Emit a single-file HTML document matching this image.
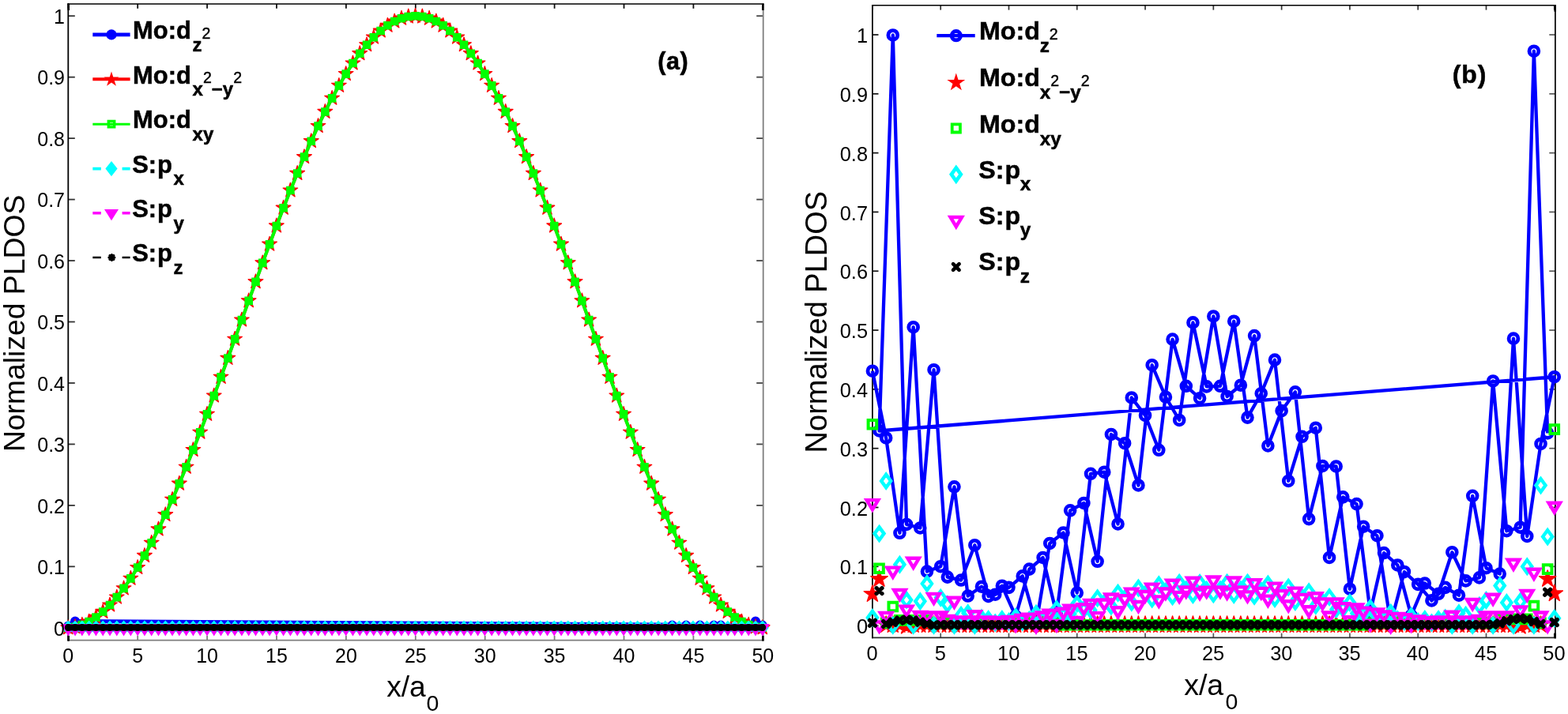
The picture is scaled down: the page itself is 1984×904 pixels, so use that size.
<!DOCTYPE html>
<html><head><meta charset="utf-8"><title>Normalized PLDOS</title>
<style>
html,body{margin:0;padding:0;background:#fff;}
body{width:1984px;height:904px;overflow:hidden;}
svg{display:block;}
text{font-family:"Liberation Sans",sans-serif;fill:#000;}
.b{font-weight:bold;stroke:#000;stroke-width:0.5px;}
</style></head><body>
<svg width="1984" height="904" viewBox="0 0 1984 904">
<rect width="1984" height="904" fill="#fff"/>
<g stroke-width="1.8" fill="none"><path d="M86.3 810.6v-5.8" stroke="#7f7f7f"/><path d="M86.3 5v5.8" stroke="#111"/><path d="M174.2 810.6v-5.8" stroke="#7f7f7f"/><path d="M174.2 5v5.8" stroke="#111"/><path d="M262.1 810.6v-5.8" stroke="#7f7f7f"/><path d="M262.1 5v5.8" stroke="#111"/><path d="M350 810.6v-5.8" stroke="#7f7f7f"/><path d="M350 5v5.8" stroke="#111"/><path d="M437.9 810.6v-5.8" stroke="#7f7f7f"/><path d="M437.9 5v5.8" stroke="#111"/><path d="M525.8 810.6v-5.8" stroke="#7f7f7f"/><path d="M525.8 5v5.8" stroke="#111"/><path d="M613.7 810.6v-5.8" stroke="#7f7f7f"/><path d="M613.7 5v5.8" stroke="#111"/><path d="M701.6 810.6v-5.8" stroke="#7f7f7f"/><path d="M701.6 5v5.8" stroke="#111"/><path d="M789.5 810.6v-5.8" stroke="#7f7f7f"/><path d="M789.5 5v5.8" stroke="#111"/><path d="M877.4 810.6v-5.8" stroke="#7f7f7f"/><path d="M877.4 5v5.8" stroke="#111"/><path d="M965.3 810.6v-5.8" stroke="#7f7f7f"/><path d="M965.3 5v5.8" stroke="#111"/><path d="M86.3 794.8h8.5" stroke="#333"/><path d="M965.7 794.8h-8.5" stroke="#444"/><path d="M86.3 717.34h8.5" stroke="#333"/><path d="M965.7 717.34h-8.5" stroke="#444"/><path d="M86.3 639.88h8.5" stroke="#333"/><path d="M965.7 639.88h-8.5" stroke="#444"/><path d="M86.3 562.42h8.5" stroke="#333"/><path d="M965.7 562.42h-8.5" stroke="#444"/><path d="M86.3 484.96h8.5" stroke="#333"/><path d="M965.7 484.96h-8.5" stroke="#444"/><path d="M86.3 407.5h8.5" stroke="#333"/><path d="M965.7 407.5h-8.5" stroke="#444"/><path d="M86.3 330.04h8.5" stroke="#333"/><path d="M965.7 330.04h-8.5" stroke="#444"/><path d="M86.3 252.58h8.5" stroke="#333"/><path d="M965.7 252.58h-8.5" stroke="#444"/><path d="M86.3 175.12h8.5" stroke="#333"/><path d="M965.7 175.12h-8.5" stroke="#444"/><path d="M86.3 97.66h8.5" stroke="#333"/><path d="M965.7 97.66h-8.5" stroke="#444"/><path d="M86.3 20.2h8.5" stroke="#333"/><path d="M965.7 20.2h-8.5" stroke="#444"/></g>
<g stroke-width="1.8" fill="none" stroke-linecap="square">
<path d="M86.3 810.6H965.7" stroke="#7f7f7f"/>
<path d="M965.7 5V810.6" stroke="#7f7f7f"/>
<path d="M86.3 5H965.7" stroke="#000" stroke-width="1.5"/>
<path d="M86.3 5V810.6" stroke="#000"/>
</g>
<path d="M86.7 5v8M965.3 5v8M86.7 811.5v-6.5M965.3 811.5v-6.5" stroke="#000" stroke-width="2.6" fill="none"/>
<polyline points="86.3,792.48 103.87,794.8 121.44,794.8 139.01,794.8 156.58,794.8 174.15,794.8 191.72,794.8 209.29,794.8 226.86,794.8 244.43,794.8 261.99,794.8 279.56,794.8 297.13,794.8 314.7,794.8 332.27,794.8 349.84,794.8 367.41,794.8 384.98,794.8 402.55,794.8 420.12,794.8 437.69,794.8 455.26,794.8 472.83,794.8 490.4,794.8 507.97,794.8 525.54,794.8 543.11,794.8 560.68,794.8 578.24,794.8 595.81,794.8 613.38,794.8 630.95,794.8 648.52,794.8 666.09,794.8 683.66,794.8 701.23,794.8 718.8,794.8 736.37,794.8 753.94,794.8 771.51,794.8 789.08,794.8 806.65,794.8 824.22,794.8 841.79,794.8 859.36,794.8 876.93,794.8 894.49,794.8 912.06,791.7 929.63,794.8 947.2,794.8 964.77,791.7 95.08,786.51 112.65,794.8 130.22,794.8 147.79,794.8 165.36,794.8 182.93,794.8 200.5,794.8 218.07,794.8 235.64,794.8 253.21,794.8 270.78,794.8 288.35,794.8 305.92,794.8 323.49,794.8 341.06,794.8 358.63,794.8 376.2,794.8 393.77,794.8 411.33,794.8 428.9,794.8 446.47,794.8 464.04,794.8 481.61,794.8 499.18,794.8 516.75,794.8 534.32,794.8 551.89,794.8 569.46,794.8 587.03,794.8 604.6,794.8 622.17,794.8 639.74,794.8 657.31,794.8 674.88,794.8 692.45,794.8 710.02,794.8 727.58,794.8 745.15,794.8 762.72,794.8 780.29,794.8 797.86,794.8 815.43,794.8 833,794.8 850.57,791.7 868.14,791.7 885.71,791.7 903.28,791.7 920.85,794.8 938.42,791.7 955.99,786.59" fill="none" stroke="#0000ff" stroke-width="4.8" stroke-linejoin="round"/>
<path d="M80.2 792.48a6.1 6.1 0 1 0 12.2 0a6.1 6.1 0 1 0 -12.2 0ZM88.98 786.51a6.1 6.1 0 1 0 12.2 0a6.1 6.1 0 1 0 -12.2 0ZM97.77 794.8a6.1 6.1 0 1 0 12.2 0a6.1 6.1 0 1 0 -12.2 0ZM106.55 794.8a6.1 6.1 0 1 0 12.2 0a6.1 6.1 0 1 0 -12.2 0ZM115.34 794.8a6.1 6.1 0 1 0 12.2 0a6.1 6.1 0 1 0 -12.2 0ZM124.12 794.8a6.1 6.1 0 1 0 12.2 0a6.1 6.1 0 1 0 -12.2 0ZM132.91 794.8a6.1 6.1 0 1 0 12.2 0a6.1 6.1 0 1 0 -12.2 0ZM141.69 794.8a6.1 6.1 0 1 0 12.2 0a6.1 6.1 0 1 0 -12.2 0ZM150.48 794.8a6.1 6.1 0 1 0 12.2 0a6.1 6.1 0 1 0 -12.2 0ZM159.26 794.8a6.1 6.1 0 1 0 12.2 0a6.1 6.1 0 1 0 -12.2 0ZM168.05 794.8a6.1 6.1 0 1 0 12.2 0a6.1 6.1 0 1 0 -12.2 0ZM176.83 794.8a6.1 6.1 0 1 0 12.2 0a6.1 6.1 0 1 0 -12.2 0ZM185.62 794.8a6.1 6.1 0 1 0 12.2 0a6.1 6.1 0 1 0 -12.2 0ZM194.4 794.8a6.1 6.1 0 1 0 12.2 0a6.1 6.1 0 1 0 -12.2 0ZM203.19 794.8a6.1 6.1 0 1 0 12.2 0a6.1 6.1 0 1 0 -12.2 0ZM211.97 794.8a6.1 6.1 0 1 0 12.2 0a6.1 6.1 0 1 0 -12.2 0ZM220.76 794.8a6.1 6.1 0 1 0 12.2 0a6.1 6.1 0 1 0 -12.2 0ZM229.54 794.8a6.1 6.1 0 1 0 12.2 0a6.1 6.1 0 1 0 -12.2 0ZM238.33 794.8a6.1 6.1 0 1 0 12.2 0a6.1 6.1 0 1 0 -12.2 0ZM247.11 794.8a6.1 6.1 0 1 0 12.2 0a6.1 6.1 0 1 0 -12.2 0ZM255.89 794.8a6.1 6.1 0 1 0 12.2 0a6.1 6.1 0 1 0 -12.2 0ZM264.68 794.8a6.1 6.1 0 1 0 12.2 0a6.1 6.1 0 1 0 -12.2 0ZM273.46 794.8a6.1 6.1 0 1 0 12.2 0a6.1 6.1 0 1 0 -12.2 0ZM282.25 794.8a6.1 6.1 0 1 0 12.2 0a6.1 6.1 0 1 0 -12.2 0ZM291.03 794.8a6.1 6.1 0 1 0 12.2 0a6.1 6.1 0 1 0 -12.2 0ZM299.82 794.8a6.1 6.1 0 1 0 12.2 0a6.1 6.1 0 1 0 -12.2 0ZM308.6 794.8a6.1 6.1 0 1 0 12.2 0a6.1 6.1 0 1 0 -12.2 0ZM317.39 794.8a6.1 6.1 0 1 0 12.2 0a6.1 6.1 0 1 0 -12.2 0ZM326.17 794.8a6.1 6.1 0 1 0 12.2 0a6.1 6.1 0 1 0 -12.2 0ZM334.96 794.8a6.1 6.1 0 1 0 12.2 0a6.1 6.1 0 1 0 -12.2 0ZM343.74 794.8a6.1 6.1 0 1 0 12.2 0a6.1 6.1 0 1 0 -12.2 0ZM352.53 794.8a6.1 6.1 0 1 0 12.2 0a6.1 6.1 0 1 0 -12.2 0ZM361.31 794.8a6.1 6.1 0 1 0 12.2 0a6.1 6.1 0 1 0 -12.2 0ZM370.1 794.8a6.1 6.1 0 1 0 12.2 0a6.1 6.1 0 1 0 -12.2 0ZM378.88 794.8a6.1 6.1 0 1 0 12.2 0a6.1 6.1 0 1 0 -12.2 0ZM387.67 794.8a6.1 6.1 0 1 0 12.2 0a6.1 6.1 0 1 0 -12.2 0ZM396.45 794.8a6.1 6.1 0 1 0 12.2 0a6.1 6.1 0 1 0 -12.2 0ZM405.23 794.8a6.1 6.1 0 1 0 12.2 0a6.1 6.1 0 1 0 -12.2 0ZM414.02 794.8a6.1 6.1 0 1 0 12.2 0a6.1 6.1 0 1 0 -12.2 0ZM422.8 794.8a6.1 6.1 0 1 0 12.2 0a6.1 6.1 0 1 0 -12.2 0ZM431.59 794.8a6.1 6.1 0 1 0 12.2 0a6.1 6.1 0 1 0 -12.2 0ZM440.37 794.8a6.1 6.1 0 1 0 12.2 0a6.1 6.1 0 1 0 -12.2 0ZM449.16 794.8a6.1 6.1 0 1 0 12.2 0a6.1 6.1 0 1 0 -12.2 0ZM457.94 794.8a6.1 6.1 0 1 0 12.2 0a6.1 6.1 0 1 0 -12.2 0ZM466.73 794.8a6.1 6.1 0 1 0 12.2 0a6.1 6.1 0 1 0 -12.2 0ZM475.51 794.8a6.1 6.1 0 1 0 12.2 0a6.1 6.1 0 1 0 -12.2 0ZM484.3 794.8a6.1 6.1 0 1 0 12.2 0a6.1 6.1 0 1 0 -12.2 0ZM493.08 794.8a6.1 6.1 0 1 0 12.2 0a6.1 6.1 0 1 0 -12.2 0ZM501.87 794.8a6.1 6.1 0 1 0 12.2 0a6.1 6.1 0 1 0 -12.2 0ZM510.65 794.8a6.1 6.1 0 1 0 12.2 0a6.1 6.1 0 1 0 -12.2 0ZM519.44 794.8a6.1 6.1 0 1 0 12.2 0a6.1 6.1 0 1 0 -12.2 0ZM528.22 794.8a6.1 6.1 0 1 0 12.2 0a6.1 6.1 0 1 0 -12.2 0ZM537.01 794.8a6.1 6.1 0 1 0 12.2 0a6.1 6.1 0 1 0 -12.2 0ZM545.79 794.8a6.1 6.1 0 1 0 12.2 0a6.1 6.1 0 1 0 -12.2 0ZM554.58 794.8a6.1 6.1 0 1 0 12.2 0a6.1 6.1 0 1 0 -12.2 0ZM563.36 794.8a6.1 6.1 0 1 0 12.2 0a6.1 6.1 0 1 0 -12.2 0ZM572.14 794.8a6.1 6.1 0 1 0 12.2 0a6.1 6.1 0 1 0 -12.2 0ZM580.93 794.8a6.1 6.1 0 1 0 12.2 0a6.1 6.1 0 1 0 -12.2 0ZM589.71 794.8a6.1 6.1 0 1 0 12.2 0a6.1 6.1 0 1 0 -12.2 0ZM598.5 794.8a6.1 6.1 0 1 0 12.2 0a6.1 6.1 0 1 0 -12.2 0ZM607.28 794.8a6.1 6.1 0 1 0 12.2 0a6.1 6.1 0 1 0 -12.2 0ZM616.07 794.8a6.1 6.1 0 1 0 12.2 0a6.1 6.1 0 1 0 -12.2 0ZM624.85 794.8a6.1 6.1 0 1 0 12.2 0a6.1 6.1 0 1 0 -12.2 0ZM633.64 794.8a6.1 6.1 0 1 0 12.2 0a6.1 6.1 0 1 0 -12.2 0ZM642.42 794.8a6.1 6.1 0 1 0 12.2 0a6.1 6.1 0 1 0 -12.2 0ZM651.21 794.8a6.1 6.1 0 1 0 12.2 0a6.1 6.1 0 1 0 -12.2 0ZM659.99 794.8a6.1 6.1 0 1 0 12.2 0a6.1 6.1 0 1 0 -12.2 0ZM668.78 794.8a6.1 6.1 0 1 0 12.2 0a6.1 6.1 0 1 0 -12.2 0ZM677.56 794.8a6.1 6.1 0 1 0 12.2 0a6.1 6.1 0 1 0 -12.2 0ZM686.35 794.8a6.1 6.1 0 1 0 12.2 0a6.1 6.1 0 1 0 -12.2 0ZM695.13 794.8a6.1 6.1 0 1 0 12.2 0a6.1 6.1 0 1 0 -12.2 0ZM703.92 794.8a6.1 6.1 0 1 0 12.2 0a6.1 6.1 0 1 0 -12.2 0ZM712.7 794.8a6.1 6.1 0 1 0 12.2 0a6.1 6.1 0 1 0 -12.2 0ZM721.48 794.8a6.1 6.1 0 1 0 12.2 0a6.1 6.1 0 1 0 -12.2 0ZM730.27 794.8a6.1 6.1 0 1 0 12.2 0a6.1 6.1 0 1 0 -12.2 0ZM739.05 794.8a6.1 6.1 0 1 0 12.2 0a6.1 6.1 0 1 0 -12.2 0ZM747.84 794.8a6.1 6.1 0 1 0 12.2 0a6.1 6.1 0 1 0 -12.2 0ZM756.62 794.8a6.1 6.1 0 1 0 12.2 0a6.1 6.1 0 1 0 -12.2 0ZM765.41 794.8a6.1 6.1 0 1 0 12.2 0a6.1 6.1 0 1 0 -12.2 0ZM774.19 794.8a6.1 6.1 0 1 0 12.2 0a6.1 6.1 0 1 0 -12.2 0ZM782.98 794.8a6.1 6.1 0 1 0 12.2 0a6.1 6.1 0 1 0 -12.2 0ZM791.76 794.8a6.1 6.1 0 1 0 12.2 0a6.1 6.1 0 1 0 -12.2 0ZM800.55 794.8a6.1 6.1 0 1 0 12.2 0a6.1 6.1 0 1 0 -12.2 0ZM809.33 794.8a6.1 6.1 0 1 0 12.2 0a6.1 6.1 0 1 0 -12.2 0ZM818.12 794.8a6.1 6.1 0 1 0 12.2 0a6.1 6.1 0 1 0 -12.2 0ZM826.9 794.8a6.1 6.1 0 1 0 12.2 0a6.1 6.1 0 1 0 -12.2 0ZM835.69 794.8a6.1 6.1 0 1 0 12.2 0a6.1 6.1 0 1 0 -12.2 0ZM844.47 791.7a6.1 6.1 0 1 0 12.2 0a6.1 6.1 0 1 0 -12.2 0ZM853.26 794.8a6.1 6.1 0 1 0 12.2 0a6.1 6.1 0 1 0 -12.2 0ZM862.04 791.7a6.1 6.1 0 1 0 12.2 0a6.1 6.1 0 1 0 -12.2 0ZM870.83 794.8a6.1 6.1 0 1 0 12.2 0a6.1 6.1 0 1 0 -12.2 0ZM879.61 791.7a6.1 6.1 0 1 0 12.2 0a6.1 6.1 0 1 0 -12.2 0ZM888.39 794.8a6.1 6.1 0 1 0 12.2 0a6.1 6.1 0 1 0 -12.2 0ZM897.18 791.7a6.1 6.1 0 1 0 12.2 0a6.1 6.1 0 1 0 -12.2 0ZM905.96 791.7a6.1 6.1 0 1 0 12.2 0a6.1 6.1 0 1 0 -12.2 0ZM914.75 794.8a6.1 6.1 0 1 0 12.2 0a6.1 6.1 0 1 0 -12.2 0ZM923.53 794.8a6.1 6.1 0 1 0 12.2 0a6.1 6.1 0 1 0 -12.2 0ZM932.32 791.7a6.1 6.1 0 1 0 12.2 0a6.1 6.1 0 1 0 -12.2 0ZM941.1 794.8a6.1 6.1 0 1 0 12.2 0a6.1 6.1 0 1 0 -12.2 0ZM949.89 786.59a6.1 6.1 0 1 0 12.2 0a6.1 6.1 0 1 0 -12.2 0ZM958.67 791.7a6.1 6.1 0 1 0 12.2 0a6.1 6.1 0 1 0 -12.2 0Z" fill="#0000ff"/>
<polyline points="86.3,794.77 95.08,793.71 103.87,791.14 112.65,787.06 121.44,781.5 130.22,774.47 139.01,766.01 147.79,756.14 156.58,744.91 165.36,732.36 174.15,718.54 182.93,703.5 191.72,687.29 200.5,670 209.29,651.68 218.07,632.4 226.86,612.24 235.64,591.27 244.43,569.59 253.21,547.28 261.99,524.41 270.78,501.09 279.56,477.4 288.35,453.44 297.13,429.3 305.92,405.08 314.7,380.86 323.49,356.75 332.27,332.83 341.06,309.21 349.84,285.98 358.63,263.21 367.41,241.02 376.2,219.47 384.98,198.67 393.77,178.68 402.55,159.58 411.33,141.46 420.12,124.38 428.9,108.4 437.69,93.6 446.47,80.03 455.26,67.73 464.04,56.77 472.83,47.18 481.61,39.01 490.4,32.27 499.18,27.01 507.97,23.23 516.75,20.96 525.54,20.2 534.32,20.96 543.11,23.23 551.89,27.01 560.68,32.27 569.46,39.01 578.24,47.18 587.03,56.77 595.81,67.73 604.6,80.03 613.38,93.6 622.17,108.4 630.95,124.38 639.74,141.46 648.52,159.58 657.31,178.68 666.09,198.67 674.88,219.47 683.66,241.02 692.45,263.21 701.23,285.98 710.02,309.21 718.8,332.83 727.58,356.75 736.37,380.86 745.15,405.08 753.94,429.3 762.72,453.44 771.51,477.4 780.29,501.09 789.08,524.41 797.86,547.28 806.65,569.59 815.43,591.27 824.22,612.24 833,632.4 841.79,651.68 850.57,670 859.36,687.29 868.14,703.5 876.93,718.54 885.71,732.36 894.49,744.91 903.28,756.14 912.06,766.01 920.85,774.47 929.63,781.5 938.42,787.06 947.2,791.14 955.99,793.71 964.77,794.77" fill="none" stroke="#ff0000" stroke-width="4" stroke-linejoin="round"/>
<path d="M86.3 784.97L88.5 791.74L95.62 791.74L89.86 795.93L92.06 802.7L86.3 798.51L80.54 802.7L82.74 795.93L76.98 791.74L84.1 791.74ZM95.08 783.91L97.29 790.68L104.41 790.68L98.65 794.87L100.85 801.64L95.08 797.45L89.32 801.64L91.52 794.87L85.76 790.68L92.88 790.68ZM103.87 781.34L106.07 788.11L113.19 788.11L107.43 792.29L109.63 799.06L103.87 794.88L98.11 799.06L100.31 792.29L94.55 788.11L101.67 788.11ZM112.65 777.26L114.85 784.03L121.97 784.03L116.21 788.22L118.41 794.99L112.65 790.8L106.89 794.99L109.09 788.22L103.33 784.03L110.45 784.03ZM121.44 771.7L123.64 778.47L130.76 778.47L125 782.66L127.2 789.43L121.44 785.24L115.68 789.43L117.88 782.66L112.12 778.47L119.24 778.47ZM130.22 764.67L132.42 771.44L139.54 771.44L133.78 775.63L135.98 782.4L130.22 778.22L124.46 782.4L126.66 775.63L120.9 771.44L128.02 771.44ZM139.01 756.21L141.21 762.98L148.33 762.98L142.57 767.17L144.77 773.94L139.01 769.75L133.25 773.94L135.45 767.17L129.69 762.98L136.81 762.98ZM147.79 746.34L149.99 753.12L157.11 753.12L151.35 757.3L153.55 764.07L147.79 759.89L142.03 764.07L144.23 757.3L138.47 753.12L145.59 753.12ZM156.58 735.11L158.78 741.88L165.9 741.88L160.14 746.07L162.34 752.84L156.58 748.66L150.82 752.84L153.02 746.07L147.26 741.88L154.38 741.88ZM165.36 722.56L167.56 729.33L174.68 729.33L168.92 733.52L171.12 740.29L165.36 736.1L159.6 740.29L161.8 733.52L156.04 729.33L163.16 729.33ZM174.15 708.74L176.35 715.51L183.47 715.51L177.71 719.69L179.91 726.47L174.15 722.28L168.39 726.47L170.59 719.69L164.83 715.51L171.95 715.51ZM182.93 693.7L185.13 700.47L192.25 700.47L186.49 704.65L188.69 711.42L182.93 707.24L177.17 711.42L179.37 704.65L173.61 700.47L180.73 700.47ZM191.72 677.49L193.92 684.27L201.04 684.27L195.28 688.45L197.48 695.22L191.72 691.04L185.96 695.22L188.16 688.45L182.4 684.27L189.52 684.27ZM200.5 660.2L202.7 666.97L209.82 666.97L204.06 671.16L206.26 677.93L200.5 673.74L194.74 677.93L196.94 671.16L191.18 666.97L198.3 666.97ZM209.29 641.88L211.49 648.65L218.61 648.65L212.85 652.83L215.05 659.6L209.29 655.42L203.53 659.6L205.73 652.83L199.97 648.65L207.09 648.65ZM218.07 622.6L220.27 629.37L227.39 629.37L221.63 633.55L223.83 640.32L218.07 636.14L212.31 640.32L214.51 633.55L208.75 629.37L215.87 629.37ZM226.86 602.44L229.06 609.21L236.18 609.21L230.42 613.39L232.62 620.16L226.86 615.98L221.1 620.16L223.3 613.39L217.54 609.21L224.66 609.21ZM235.64 581.47L237.84 588.24L244.96 588.24L239.2 592.43L241.4 599.2L235.64 595.02L229.88 599.2L232.08 592.43L226.32 588.24L233.44 588.24ZM244.43 559.79L246.63 566.56L253.75 566.56L247.99 570.75L250.19 577.52L244.43 573.34L238.66 577.52L240.86 570.75L235.1 566.56L242.22 566.56ZM253.21 537.48L255.41 544.25L262.53 544.25L256.77 548.43L258.97 555.2L253.21 551.02L247.45 555.2L249.65 548.43L243.89 544.25L251.01 544.25ZM261.99 514.61L264.19 521.38L271.31 521.38L265.55 525.57L267.75 532.34L261.99 528.16L256.23 532.34L258.43 525.57L252.67 521.38L259.79 521.38ZM270.78 491.29L272.98 498.06L280.1 498.06L274.34 502.25L276.54 509.02L270.78 504.84L265.02 509.02L267.22 502.25L261.46 498.06L268.58 498.06ZM279.56 467.6L281.76 474.38L288.88 474.38L283.12 478.56L285.32 485.33L279.56 481.15L273.8 485.33L276 478.56L270.24 474.38L277.36 474.38ZM288.35 443.64L290.55 450.41L297.67 450.42L291.91 454.6L294.11 461.37L288.35 457.19L282.59 461.37L284.79 454.6L279.03 450.42L286.15 450.41ZM297.13 419.5L299.33 426.27L306.45 426.27L300.69 430.46L302.89 437.23L297.13 433.05L291.37 437.23L293.57 430.46L287.81 426.27L294.93 426.27ZM305.92 395.28L308.12 402.05L315.24 402.05L309.48 406.23L311.68 413L305.92 408.82L300.16 413L302.36 406.23L296.6 402.05L303.72 402.05ZM314.7 371.06L316.9 377.83L324.02 377.83L318.26 382.02L320.46 388.79L314.7 384.6L308.94 388.79L311.14 382.02L305.38 377.83L312.5 377.83ZM323.49 346.95L325.69 353.72L332.81 353.72L327.05 357.9L329.25 364.68L323.49 360.49L317.73 364.68L319.93 357.9L314.17 353.72L321.29 353.72ZM332.27 323.03L334.47 329.8L341.59 329.8L335.83 333.99L338.03 340.76L332.27 336.58L326.51 340.76L328.71 333.99L322.95 329.8L330.07 329.8ZM341.06 299.41L343.26 306.18L350.38 306.18L344.62 310.37L346.82 317.14L341.06 312.96L335.3 317.14L337.5 310.37L331.74 306.18L338.86 306.18ZM349.84 276.18L352.04 282.95L359.16 282.95L353.4 287.13L355.6 293.9L349.84 289.72L344.08 293.9L346.28 287.13L340.52 282.95L347.64 282.95ZM358.63 253.41L360.83 260.19L367.95 260.19L362.19 264.37L364.39 271.14L358.63 266.96L352.87 271.14L355.07 264.37L349.31 260.19L356.43 260.19ZM367.41 231.22L369.61 237.99L376.73 237.99L370.97 242.18L373.17 248.95L367.41 244.76L361.65 248.95L363.85 242.18L358.09 237.99L365.21 237.99ZM376.2 209.67L378.4 216.45L385.52 216.45L379.76 220.63L381.96 227.4L376.2 223.22L370.44 227.4L372.64 220.63L366.88 216.45L374 216.45ZM384.98 188.87L387.18 195.64L394.3 195.64L388.54 199.82L390.74 206.59L384.98 202.41L379.22 206.59L381.42 199.82L375.66 195.64L382.78 195.64ZM393.77 168.88L395.97 175.65L403.09 175.65L397.33 179.83L399.53 186.6L393.77 182.42L388.01 186.6L390.21 179.83L384.45 175.65L391.56 175.65ZM402.55 149.78L404.75 156.55L411.87 156.55L406.11 160.74L408.31 167.51L402.55 163.32L396.79 167.51L398.99 160.74L393.23 156.55L400.35 156.55ZM411.33 131.66L413.54 138.43L420.66 138.43L414.9 142.61L417.1 149.39L411.33 145.2L405.57 149.39L407.77 142.61L402.01 138.43L409.13 138.43ZM420.12 114.58L422.32 121.35L429.44 121.35L423.68 125.53L425.88 132.3L420.12 128.12L414.36 132.3L416.56 125.53L410.8 121.35L417.92 121.35ZM428.9 98.6L431.1 105.37L438.22 105.37L432.46 109.56L434.66 116.33L428.9 112.15L423.14 116.33L425.34 109.56L419.58 105.37L426.7 105.37ZM437.69 83.8L439.89 90.57L447.01 90.57L441.25 94.76L443.45 101.53L437.69 97.34L431.93 101.53L434.13 94.76L428.37 90.57L435.49 90.57ZM446.47 70.23L448.67 77L455.79 77L450.03 81.18L452.23 87.95L446.47 83.77L440.71 87.95L442.91 81.18L437.15 77L444.27 77ZM455.26 57.93L457.46 64.7L464.58 64.71L458.82 68.89L461.02 75.66L455.26 71.48L449.5 75.66L451.7 68.89L445.94 64.71L453.06 64.7ZM464.04 46.97L466.24 53.74L473.36 53.74L467.6 57.93L469.8 64.7L464.04 60.52L458.28 64.7L460.48 57.93L454.72 53.74L461.84 53.74ZM472.83 37.38L475.03 44.16L482.15 44.16L476.39 48.34L478.59 55.11L472.83 50.93L467.07 55.11L469.27 48.34L463.51 44.16L470.63 44.16ZM481.61 29.21L483.81 35.98L490.93 35.98L485.17 40.16L487.37 46.93L481.61 42.75L475.85 46.93L478.05 40.16L472.29 35.98L479.41 35.98ZM490.4 22.47L492.6 29.24L499.72 29.24L493.96 33.43L496.16 40.2L490.4 36.02L484.64 40.2L486.84 33.43L481.08 29.24L488.2 29.24ZM499.18 17.21L501.38 23.98L508.5 23.98L502.74 28.16L504.94 34.93L499.18 30.75L493.42 34.93L495.62 28.16L489.86 23.98L496.98 23.98ZM507.97 13.43L510.17 20.2L517.29 20.2L511.53 24.39L513.73 31.16L507.97 26.97L502.21 31.16L504.41 24.39L498.65 20.2L505.77 20.2ZM516.75 11.16L518.95 17.93L526.07 17.93L520.31 22.12L522.51 28.89L516.75 24.7L510.99 28.89L513.19 22.12L507.43 17.93L514.55 17.93ZM525.54 10.4L527.74 17.17L534.86 17.17L529.1 21.36L531.3 28.13L525.54 23.94L519.78 28.13L521.98 21.36L516.22 17.17L523.34 17.17ZM534.32 11.16L536.52 17.93L543.64 17.93L537.88 22.12L540.08 28.89L534.32 24.7L528.56 28.89L530.76 22.12L525 17.93L532.12 17.93ZM543.11 13.43L545.31 20.2L552.43 20.2L546.67 24.39L548.87 31.16L543.11 26.97L537.35 31.16L539.55 24.39L533.79 20.2L540.91 20.2ZM551.89 17.21L554.09 23.98L561.21 23.98L555.45 28.16L557.65 34.93L551.89 30.75L546.13 34.93L548.33 28.16L542.57 23.98L549.69 23.98ZM560.68 22.47L562.88 29.24L570 29.24L564.24 33.43L566.44 40.2L560.68 36.02L554.91 40.2L557.11 33.43L551.35 29.24L558.47 29.24ZM569.46 29.21L571.66 35.98L578.78 35.98L573.02 40.16L575.22 46.93L569.46 42.75L563.7 46.93L565.9 40.16L560.14 35.98L567.26 35.98ZM578.24 37.38L580.45 44.16L587.57 44.16L581.81 48.34L584 55.11L578.24 50.93L572.48 55.11L574.68 48.34L568.92 44.16L576.04 44.16ZM587.03 46.97L589.23 53.74L596.35 53.74L590.59 57.93L592.79 64.7L587.03 60.52L581.27 64.7L583.47 57.93L577.71 53.74L584.83 53.74ZM595.81 57.93L598.01 64.7L605.13 64.71L599.37 68.89L601.57 75.66L595.81 71.48L590.05 75.66L592.25 68.89L586.49 64.71L593.61 64.7ZM604.6 70.23L606.8 77L613.92 77L608.16 81.18L610.36 87.95L604.6 83.77L598.84 87.95L601.04 81.18L595.28 77L602.4 77ZM613.38 83.8L615.58 90.57L622.7 90.57L616.94 94.76L619.14 101.53L613.38 97.34L607.62 101.53L609.82 94.76L604.06 90.57L611.18 90.57ZM622.17 98.6L624.37 105.37L631.49 105.37L625.73 109.56L627.93 116.33L622.17 112.15L616.41 116.33L618.61 109.56L612.85 105.37L619.97 105.37ZM630.95 114.58L633.15 121.35L640.27 121.35L634.51 125.53L636.71 132.3L630.95 128.12L625.19 132.3L627.39 125.53L621.63 121.35L628.75 121.35ZM639.74 131.66L641.94 138.43L649.06 138.43L643.3 142.61L645.5 149.39L639.74 145.2L633.98 149.39L636.18 142.61L630.42 138.43L637.54 138.43ZM648.52 149.78L650.72 156.55L657.84 156.55L652.08 160.74L654.28 167.51L648.52 163.32L642.76 167.51L644.96 160.74L639.2 156.55L646.32 156.55ZM657.31 168.88L659.51 175.65L666.63 175.65L660.87 179.83L663.07 186.6L657.31 182.42L651.55 186.6L653.75 179.83L647.99 175.65L655.11 175.65ZM666.09 188.87L668.29 195.64L675.41 195.64L669.65 199.82L671.85 206.59L666.09 202.41L660.33 206.59L662.53 199.82L656.77 195.64L663.89 195.64ZM674.88 209.67L677.08 216.45L684.2 216.45L678.44 220.63L680.64 227.4L674.88 223.22L669.12 227.4L671.32 220.63L665.56 216.45L672.68 216.45ZM683.66 231.22L685.86 237.99L692.98 237.99L687.22 242.18L689.42 248.95L683.66 244.76L677.9 248.95L680.1 242.18L674.34 237.99L681.46 237.99ZM692.45 253.41L694.65 260.19L701.77 260.19L696.01 264.37L698.21 271.14L692.45 266.96L686.69 271.14L688.89 264.37L683.13 260.19L690.25 260.19ZM701.23 276.18L703.43 282.95L710.55 282.95L704.79 287.13L706.99 293.9L701.23 289.72L695.47 293.9L697.67 287.13L691.91 282.95L699.03 282.95ZM710.02 299.41L712.22 306.18L719.34 306.18L713.58 310.37L715.78 317.14L710.02 312.96L704.26 317.14L706.46 310.37L700.7 306.18L707.82 306.18ZM718.8 323.03L721 329.8L728.12 329.8L722.36 333.99L724.56 340.76L718.8 336.58L713.04 340.76L715.24 333.99L709.48 329.8L716.6 329.8ZM727.58 346.95L729.79 353.72L736.91 353.72L731.15 357.9L733.35 364.68L727.58 360.49L721.82 364.68L724.02 357.9L718.26 353.72L725.38 353.72ZM736.37 371.06L738.57 377.83L745.69 377.83L739.93 382.02L742.13 388.79L736.37 384.6L730.61 388.79L732.81 382.02L727.05 377.83L734.17 377.83ZM745.15 395.28L747.35 402.05L754.47 402.05L748.71 406.23L750.91 413L745.15 408.82L739.39 413L741.59 406.23L735.83 402.05L742.95 402.05ZM753.94 419.5L756.14 426.27L763.26 426.27L757.5 430.46L759.7 437.23L753.94 433.05L748.18 437.23L750.38 430.46L744.62 426.27L751.74 426.27ZM762.72 443.64L764.92 450.41L772.04 450.42L766.28 454.6L768.48 461.37L762.72 457.19L756.96 461.37L759.16 454.6L753.4 450.42L760.52 450.41ZM771.51 467.6L773.71 474.38L780.83 474.38L775.07 478.56L777.27 485.33L771.51 481.15L765.75 485.33L767.95 478.56L762.19 474.38L769.31 474.38ZM780.29 491.29L782.49 498.06L789.61 498.06L783.85 502.25L786.05 509.02L780.29 504.84L774.53 509.02L776.73 502.25L770.97 498.06L778.09 498.06ZM789.08 514.61L791.28 521.38L798.4 521.38L792.64 525.57L794.84 532.34L789.08 528.16L783.32 532.34L785.52 525.57L779.76 521.38L786.88 521.38ZM797.86 537.48L800.06 544.25L807.18 544.25L801.42 548.43L803.62 555.2L797.86 551.02L792.1 555.2L794.3 548.43L788.54 544.25L795.66 544.25ZM806.65 559.79L808.85 566.56L815.97 566.56L810.21 570.75L812.41 577.52L806.65 573.34L800.89 577.52L803.09 570.75L797.33 566.56L804.45 566.56ZM815.43 581.47L817.63 588.24L824.75 588.24L818.99 592.43L821.19 599.2L815.43 595.02L809.67 599.2L811.87 592.43L806.11 588.24L813.23 588.24ZM824.22 602.44L826.42 609.21L833.54 609.21L827.78 613.39L829.98 620.16L824.22 615.98L818.46 620.16L820.66 613.39L814.9 609.21L822.02 609.21ZM833 622.6L835.2 629.37L842.32 629.37L836.56 633.55L838.76 640.32L833 636.14L827.24 640.32L829.44 633.55L823.68 629.37L830.8 629.37ZM841.79 641.88L843.99 648.65L851.11 648.65L845.35 652.83L847.55 659.6L841.79 655.42L836.03 659.6L838.23 652.83L832.47 648.65L839.59 648.65ZM850.57 660.2L852.77 666.97L859.89 666.97L854.13 671.16L856.33 677.93L850.57 673.74L844.81 677.93L847.01 671.16L841.25 666.97L848.37 666.97ZM859.36 677.49L861.56 684.27L868.68 684.27L862.92 688.45L865.12 695.22L859.36 691.04L853.6 695.22L855.8 688.45L850.04 684.27L857.16 684.27ZM868.14 693.7L870.34 700.47L877.46 700.47L871.7 704.65L873.9 711.42L868.14 707.24L862.38 711.42L864.58 704.65L858.82 700.47L865.94 700.47ZM876.93 708.74L879.13 715.51L886.25 715.51L880.49 719.69L882.69 726.47L876.93 722.28L871.17 726.47L873.36 719.69L867.6 715.51L874.72 715.51ZM885.71 722.56L887.91 729.33L895.03 729.33L889.27 733.52L891.47 740.29L885.71 736.1L879.95 740.29L882.15 733.52L876.39 729.33L883.51 729.33ZM894.49 735.11L896.7 741.88L903.82 741.88L898.06 746.07L900.26 752.84L894.49 748.66L888.73 752.84L890.93 746.07L885.17 741.88L892.29 741.88ZM903.28 746.34L905.48 753.12L912.6 753.12L906.84 757.3L909.04 764.07L903.28 759.89L897.52 764.07L899.72 757.3L893.96 753.12L901.08 753.12ZM912.06 756.21L914.26 762.98L921.38 762.98L915.62 767.17L917.82 773.94L912.06 769.75L906.3 773.94L908.5 767.17L902.74 762.98L909.86 762.98ZM920.85 764.67L923.05 771.44L930.17 771.44L924.41 775.63L926.61 782.4L920.85 778.22L915.09 782.4L917.29 775.63L911.53 771.44L918.65 771.44ZM929.63 771.7L931.83 778.47L938.95 778.47L933.19 782.66L935.39 789.43L929.63 785.24L923.87 789.43L926.07 782.66L920.31 778.47L927.43 778.47ZM938.42 777.26L940.62 784.03L947.74 784.03L941.98 788.22L944.18 794.99L938.42 790.8L932.66 794.99L934.86 788.22L929.1 784.03L936.22 784.03ZM947.2 781.34L949.4 788.11L956.52 788.11L950.76 792.29L952.96 799.06L947.2 794.88L941.44 799.06L943.64 792.29L937.88 788.11L945 788.11ZM955.99 783.91L958.19 790.68L965.31 790.68L959.55 794.87L961.75 801.64L955.99 797.45L950.23 801.64L952.43 794.87L946.67 790.68L953.79 790.68ZM964.77 784.97L966.97 791.74L974.09 791.74L968.33 795.93L970.53 802.7L964.77 798.51L959.01 802.7L961.21 795.93L955.45 791.74L962.57 791.74Z" fill="#ff0000" stroke="#ff0000" stroke-width="1.2" stroke-linejoin="round"/>
<polyline points="86.3,794.77 95.08,793.71 103.87,791.14 112.65,787.06 121.44,781.5 130.22,774.47 139.01,766.01 147.79,756.14 156.58,744.91 165.36,732.36 174.15,718.54 182.93,703.5 191.72,687.29 200.5,670 209.29,651.68 218.07,632.4 226.86,612.24 235.64,591.27 244.43,569.59 253.21,547.28 261.99,524.41 270.78,501.09 279.56,477.4 288.35,453.44 297.13,429.3 305.92,405.08 314.7,380.86 323.49,356.75 332.27,332.83 341.06,309.21 349.84,285.98 358.63,263.21 367.41,241.02 376.2,219.47 384.98,198.67 393.77,178.68 402.55,159.58 411.33,141.46 420.12,124.38 428.9,108.4 437.69,93.6 446.47,80.03 455.26,67.73 464.04,56.77 472.83,47.18 481.61,39.01 490.4,32.27 499.18,27.01 507.97,23.23 516.75,20.96 525.54,20.2 534.32,20.96 543.11,23.23 551.89,27.01 560.68,32.27 569.46,39.01 578.24,47.18 587.03,56.77 595.81,67.73 604.6,80.03 613.38,93.6 622.17,108.4 630.95,124.38 639.74,141.46 648.52,159.58 657.31,178.68 666.09,198.67 674.88,219.47 683.66,241.02 692.45,263.21 701.23,285.98 710.02,309.21 718.8,332.83 727.58,356.75 736.37,380.86 745.15,405.08 753.94,429.3 762.72,453.44 771.51,477.4 780.29,501.09 789.08,524.41 797.86,547.28 806.65,569.59 815.43,591.27 824.22,612.24 833,632.4 841.79,651.68 850.57,670 859.36,687.29 868.14,703.5 876.93,718.54 885.71,732.36 894.49,744.91 903.28,756.14 912.06,766.01 920.85,774.47 929.63,781.5 938.42,787.06 947.2,791.14 955.99,793.71 964.77,794.77" fill="none" stroke="#00ff00" stroke-width="4.2" stroke-linejoin="round"/>
<path d="M82.9 791.37h6.8v6.8h-6.8ZM91.68 790.31h6.8v6.8h-6.8ZM100.47 787.74h6.8v6.8h-6.8ZM109.25 783.66h6.8v6.8h-6.8ZM118.04 778.1h6.8v6.8h-6.8ZM126.82 771.07h6.8v6.8h-6.8ZM135.61 762.61h6.8v6.8h-6.8ZM144.39 752.74h6.8v6.8h-6.8ZM153.18 741.51h6.8v6.8h-6.8ZM161.96 728.96h6.8v6.8h-6.8ZM170.75 715.14h6.8v6.8h-6.8ZM179.53 700.1h6.8v6.8h-6.8ZM188.32 683.89h6.8v6.8h-6.8ZM197.1 666.6h6.8v6.8h-6.8ZM205.89 648.28h6.8v6.8h-6.8ZM214.67 629h6.8v6.8h-6.8ZM223.46 608.84h6.8v6.8h-6.8ZM232.24 587.87h6.8v6.8h-6.8ZM241.03 566.19h6.8v6.8h-6.8ZM249.81 543.88h6.8v6.8h-6.8ZM258.59 521.01h6.8v6.8h-6.8ZM267.38 497.69h6.8v6.8h-6.8ZM276.16 474h6.8v6.8h-6.8ZM284.95 450.04h6.8v6.8h-6.8ZM293.73 425.9h6.8v6.8h-6.8ZM302.52 401.68h6.8v6.8h-6.8ZM311.3 377.46h6.8v6.8h-6.8ZM320.09 353.35h6.8v6.8h-6.8ZM328.87 329.43h6.8v6.8h-6.8ZM337.66 305.81h6.8v6.8h-6.8ZM346.44 282.58h6.8v6.8h-6.8ZM355.23 259.81h6.8v6.8h-6.8ZM364.01 237.62h6.8v6.8h-6.8ZM372.8 216.07h6.8v6.8h-6.8ZM381.58 195.27h6.8v6.8h-6.8ZM390.37 175.28h6.8v6.8h-6.8ZM399.15 156.18h6.8v6.8h-6.8ZM407.93 138.06h6.8v6.8h-6.8ZM416.72 120.98h6.8v6.8h-6.8ZM425.5 105h6.8v6.8h-6.8ZM434.29 90.2h6.8v6.8h-6.8ZM443.07 76.63h6.8v6.8h-6.8ZM451.86 64.33h6.8v6.8h-6.8ZM460.64 53.37h6.8v6.8h-6.8ZM469.43 43.78h6.8v6.8h-6.8ZM478.21 35.61h6.8v6.8h-6.8ZM487 28.87h6.8v6.8h-6.8ZM495.78 23.61h6.8v6.8h-6.8ZM504.57 19.83h6.8v6.8h-6.8ZM513.35 17.56h6.8v6.8h-6.8ZM522.14 16.8h6.8v6.8h-6.8ZM530.92 17.56h6.8v6.8h-6.8ZM539.71 19.83h6.8v6.8h-6.8ZM548.49 23.61h6.8v6.8h-6.8ZM557.28 28.87h6.8v6.8h-6.8ZM566.06 35.61h6.8v6.8h-6.8ZM574.84 43.78h6.8v6.8h-6.8ZM583.63 53.37h6.8v6.8h-6.8ZM592.41 64.33h6.8v6.8h-6.8ZM601.2 76.63h6.8v6.8h-6.8ZM609.98 90.2h6.8v6.8h-6.8ZM618.77 105h6.8v6.8h-6.8ZM627.55 120.98h6.8v6.8h-6.8ZM636.34 138.06h6.8v6.8h-6.8ZM645.12 156.18h6.8v6.8h-6.8ZM653.91 175.28h6.8v6.8h-6.8ZM662.69 195.27h6.8v6.8h-6.8ZM671.48 216.07h6.8v6.8h-6.8ZM680.26 237.62h6.8v6.8h-6.8ZM689.05 259.81h6.8v6.8h-6.8ZM697.83 282.58h6.8v6.8h-6.8ZM706.62 305.81h6.8v6.8h-6.8ZM715.4 329.43h6.8v6.8h-6.8ZM724.18 353.35h6.8v6.8h-6.8ZM732.97 377.46h6.8v6.8h-6.8ZM741.75 401.68h6.8v6.8h-6.8ZM750.54 425.9h6.8v6.8h-6.8ZM759.32 450.04h6.8v6.8h-6.8ZM768.11 474h6.8v6.8h-6.8ZM776.89 497.69h6.8v6.8h-6.8ZM785.68 521.01h6.8v6.8h-6.8ZM794.46 543.88h6.8v6.8h-6.8ZM803.25 566.19h6.8v6.8h-6.8ZM812.03 587.87h6.8v6.8h-6.8ZM820.82 608.84h6.8v6.8h-6.8ZM829.6 629h6.8v6.8h-6.8ZM838.39 648.28h6.8v6.8h-6.8ZM847.17 666.6h6.8v6.8h-6.8ZM855.96 683.89h6.8v6.8h-6.8ZM864.74 700.1h6.8v6.8h-6.8ZM873.53 715.14h6.8v6.8h-6.8ZM882.31 728.96h6.8v6.8h-6.8ZM891.09 741.51h6.8v6.8h-6.8ZM899.88 752.74h6.8v6.8h-6.8ZM908.66 762.61h6.8v6.8h-6.8ZM917.45 771.07h6.8v6.8h-6.8ZM926.23 778.1h6.8v6.8h-6.8ZM935.02 783.66h6.8v6.8h-6.8ZM943.8 787.74h6.8v6.8h-6.8ZM952.59 790.31h6.8v6.8h-6.8ZM961.37 791.37h6.8v6.8h-6.8Z" fill="none" stroke="#00ff00" stroke-width="3.8"/>
<polyline points="86.3,794.8 95.08,794.8 103.87,794.8 112.65,794.8 121.44,794.8 130.22,794.8 139.01,794.8 147.79,794.8 156.58,794.8 165.36,794.8 174.15,794.8 182.93,794.8 191.72,794.8 200.5,794.8 209.29,794.8 218.07,794.8 226.86,794.8 235.64,794.8 244.43,794.8 253.21,794.8 261.99,794.8 270.78,794.8 279.56,794.8 288.35,794.8 297.13,794.8 305.92,794.8 314.7,794.8 323.49,794.8 332.27,794.8 341.06,794.8 349.84,794.8 358.63,794.8 367.41,794.8 376.2,794.8 384.98,794.8 393.77,794.8 402.55,794.8 411.33,794.8 420.12,794.8 428.9,794.8 437.69,794.8 446.47,794.8 455.26,794.8 464.04,794.8 472.83,794.8 481.61,794.8 490.4,794.8 499.18,794.8 507.97,794.8 516.75,794.8 525.54,794.8 534.32,794.8 543.11,794.8 551.89,794.8 560.68,794.8 569.46,794.8 578.24,794.8 587.03,794.8 595.81,794.8 604.6,794.8 613.38,794.8 622.17,794.8 630.95,794.8 639.74,794.8 648.52,794.8 657.31,794.8 666.09,794.8 674.88,794.8 683.66,794.8 692.45,794.8 701.23,794.8 710.02,794.8 718.8,794.8 727.58,794.8 736.37,794.8 745.15,794.8 753.94,794.8 762.72,794.8 771.51,794.8 780.29,794.8 789.08,794.8 797.86,794.8 806.65,794.8 815.43,794.8 824.22,794.8 833,794.8 841.79,794.8 850.57,794.8 859.36,794.8 868.14,794.8 876.93,794.8 885.71,794.8 894.49,794.8 903.28,794.8 912.06,794.8 920.85,794.8 929.63,794.8 938.42,794.8 947.2,794.8 955.99,794.8 964.77,794.8" fill="none" stroke="#00ffff" stroke-width="3.2" stroke-linejoin="round" stroke-dasharray="12 12"/>
<path d="M86.3 785.4L94.5 794.8L86.3 804.2L78.1 794.8ZM95.08 785.4L103.28 794.8L95.08 804.2L86.88 794.8ZM103.87 785.4L112.07 794.8L103.87 804.2L95.67 794.8ZM112.65 785.4L120.85 794.8L112.65 804.2L104.45 794.8ZM121.44 785.4L129.64 794.8L121.44 804.2L113.24 794.8ZM130.22 785.4L138.42 794.8L130.22 804.2L122.02 794.8ZM139.01 785.4L147.21 794.8L139.01 804.2L130.81 794.8ZM147.79 785.4L155.99 794.8L147.79 804.2L139.59 794.8ZM156.58 785.4L164.78 794.8L156.58 804.2L148.38 794.8ZM165.36 785.4L173.56 794.8L165.36 804.2L157.16 794.8ZM174.15 785.4L182.35 794.8L174.15 804.2L165.95 794.8ZM182.93 785.4L191.13 794.8L182.93 804.2L174.73 794.8ZM191.72 785.4L199.92 794.8L191.72 804.2L183.52 794.8ZM200.5 785.4L208.7 794.8L200.5 804.2L192.3 794.8ZM209.29 785.4L217.49 794.8L209.29 804.2L201.09 794.8ZM218.07 785.4L226.27 794.8L218.07 804.2L209.87 794.8ZM226.86 785.4L235.06 794.8L226.86 804.2L218.66 794.8ZM235.64 785.4L243.84 794.8L235.64 804.2L227.44 794.8ZM244.43 785.4L252.63 794.8L244.43 804.2L236.23 794.8ZM253.21 785.4L261.41 794.8L253.21 804.2L245.01 794.8ZM261.99 785.4L270.19 794.8L261.99 804.2L253.79 794.8ZM270.78 785.4L278.98 794.8L270.78 804.2L262.58 794.8ZM279.56 785.4L287.76 794.8L279.56 804.2L271.36 794.8ZM288.35 785.4L296.55 794.8L288.35 804.2L280.15 794.8ZM297.13 785.4L305.33 794.8L297.13 804.2L288.93 794.8ZM305.92 785.4L314.12 794.8L305.92 804.2L297.72 794.8ZM314.7 785.4L322.9 794.8L314.7 804.2L306.5 794.8ZM323.49 785.4L331.69 794.8L323.49 804.2L315.29 794.8ZM332.27 785.4L340.47 794.8L332.27 804.2L324.07 794.8ZM341.06 785.4L349.26 794.8L341.06 804.2L332.86 794.8ZM349.84 785.4L358.04 794.8L349.84 804.2L341.64 794.8ZM358.63 785.4L366.83 794.8L358.63 804.2L350.43 794.8ZM367.41 785.4L375.61 794.8L367.41 804.2L359.21 794.8ZM376.2 785.4L384.4 794.8L376.2 804.2L368 794.8ZM384.98 785.4L393.18 794.8L384.98 804.2L376.78 794.8ZM393.77 785.4L401.97 794.8L393.77 804.2L385.57 794.8ZM402.55 785.4L410.75 794.8L402.55 804.2L394.35 794.8ZM411.33 785.4L419.53 794.8L411.33 804.2L403.13 794.8ZM420.12 785.4L428.32 794.8L420.12 804.2L411.92 794.8ZM428.9 785.4L437.1 794.8L428.9 804.2L420.7 794.8ZM437.69 785.4L445.89 794.8L437.69 804.2L429.49 794.8ZM446.47 785.4L454.67 794.8L446.47 804.2L438.27 794.8ZM455.26 785.4L463.46 794.8L455.26 804.2L447.06 794.8ZM464.04 785.4L472.24 794.8L464.04 804.2L455.84 794.8ZM472.83 785.4L481.03 794.8L472.83 804.2L464.63 794.8ZM481.61 785.4L489.81 794.8L481.61 804.2L473.41 794.8ZM490.4 785.4L498.6 794.8L490.4 804.2L482.2 794.8ZM499.18 785.4L507.38 794.8L499.18 804.2L490.98 794.8ZM507.97 785.4L516.17 794.8L507.97 804.2L499.77 794.8ZM516.75 785.4L524.95 794.8L516.75 804.2L508.55 794.8ZM525.54 785.4L533.74 794.8L525.54 804.2L517.34 794.8ZM534.32 785.4L542.52 794.8L534.32 804.2L526.12 794.8ZM543.11 785.4L551.31 794.8L543.11 804.2L534.91 794.8ZM551.89 785.4L560.09 794.8L551.89 804.2L543.69 794.8ZM560.68 785.4L568.88 794.8L560.68 804.2L552.48 794.8ZM569.46 785.4L577.66 794.8L569.46 804.2L561.26 794.8ZM578.24 785.4L586.44 794.8L578.24 804.2L570.04 794.8ZM587.03 785.4L595.23 794.8L587.03 804.2L578.83 794.8ZM595.81 785.4L604.01 794.8L595.81 804.2L587.61 794.8ZM604.6 785.4L612.8 794.8L604.6 804.2L596.4 794.8ZM613.38 785.4L621.58 794.8L613.38 804.2L605.18 794.8ZM622.17 785.4L630.37 794.8L622.17 804.2L613.97 794.8ZM630.95 785.4L639.15 794.8L630.95 804.2L622.75 794.8ZM639.74 785.4L647.94 794.8L639.74 804.2L631.54 794.8ZM648.52 785.4L656.72 794.8L648.52 804.2L640.32 794.8ZM657.31 785.4L665.51 794.8L657.31 804.2L649.11 794.8ZM666.09 785.4L674.29 794.8L666.09 804.2L657.89 794.8ZM674.88 785.4L683.08 794.8L674.88 804.2L666.68 794.8ZM683.66 785.4L691.86 794.8L683.66 804.2L675.46 794.8ZM692.45 785.4L700.65 794.8L692.45 804.2L684.25 794.8ZM701.23 785.4L709.43 794.8L701.23 804.2L693.03 794.8ZM710.02 785.4L718.22 794.8L710.02 804.2L701.82 794.8ZM718.8 785.4L727 794.8L718.8 804.2L710.6 794.8ZM727.58 785.4L735.78 794.8L727.58 804.2L719.38 794.8ZM736.37 785.4L744.57 794.8L736.37 804.2L728.17 794.8ZM745.15 785.4L753.35 794.8L745.15 804.2L736.95 794.8ZM753.94 785.4L762.14 794.8L753.94 804.2L745.74 794.8ZM762.72 785.4L770.92 794.8L762.72 804.2L754.52 794.8ZM771.51 785.4L779.71 794.8L771.51 804.2L763.31 794.8ZM780.29 785.4L788.49 794.8L780.29 804.2L772.09 794.8ZM789.08 785.4L797.28 794.8L789.08 804.2L780.88 794.8ZM797.86 785.4L806.06 794.8L797.86 804.2L789.66 794.8ZM806.65 785.4L814.85 794.8L806.65 804.2L798.45 794.8ZM815.43 785.4L823.63 794.8L815.43 804.2L807.23 794.8ZM824.22 785.4L832.42 794.8L824.22 804.2L816.02 794.8ZM833 785.4L841.2 794.8L833 804.2L824.8 794.8ZM841.79 785.4L849.99 794.8L841.79 804.2L833.59 794.8ZM850.57 785.4L858.77 794.8L850.57 804.2L842.37 794.8ZM859.36 785.4L867.56 794.8L859.36 804.2L851.16 794.8ZM868.14 785.4L876.34 794.8L868.14 804.2L859.94 794.8ZM876.93 785.4L885.13 794.8L876.93 804.2L868.73 794.8ZM885.71 785.4L893.91 794.8L885.71 804.2L877.51 794.8ZM894.49 785.4L902.69 794.8L894.49 804.2L886.29 794.8ZM903.28 785.4L911.48 794.8L903.28 804.2L895.08 794.8ZM912.06 785.4L920.26 794.8L912.06 804.2L903.86 794.8ZM920.85 785.4L929.05 794.8L920.85 804.2L912.65 794.8ZM929.63 785.4L937.83 794.8L929.63 804.2L921.43 794.8ZM938.42 785.4L946.62 794.8L938.42 804.2L930.22 794.8ZM947.2 785.4L955.4 794.8L947.2 804.2L939 794.8ZM955.99 785.4L964.19 794.8L955.99 804.2L947.79 794.8ZM964.77 785.4L972.97 794.8L964.77 804.2L956.57 794.8Z" fill="#00ffff"/>
<polyline points="86.3,795.26 95.08,795.26 103.87,795.26 112.65,795.26 121.44,795.26 130.22,795.26 139.01,795.26 147.79,795.26 156.58,795.26 165.36,795.26 174.15,795.26 182.93,795.26 191.72,795.26 200.5,795.26 209.29,795.26 218.07,795.26 226.86,795.26 235.64,795.26 244.43,795.26 253.21,795.26 261.99,795.26 270.78,795.26 279.56,795.26 288.35,795.26 297.13,795.26 305.92,795.26 314.7,795.26 323.49,795.26 332.27,795.26 341.06,795.26 349.84,795.26 358.63,795.26 367.41,795.26 376.2,795.26 384.98,795.26 393.77,795.26 402.55,795.26 411.33,795.26 420.12,795.26 428.9,795.26 437.69,795.26 446.47,795.26 455.26,795.26 464.04,795.26 472.83,795.26 481.61,795.26 490.4,795.26 499.18,795.26 507.97,795.26 516.75,795.26 525.54,795.26 534.32,795.26 543.11,795.26 551.89,795.26 560.68,795.26 569.46,795.26 578.24,795.26 587.03,795.26 595.81,795.26 604.6,795.26 613.38,795.26 622.17,795.26 630.95,795.26 639.74,795.26 648.52,795.26 657.31,795.26 666.09,795.26 674.88,795.26 683.66,795.26 692.45,795.26 701.23,795.26 710.02,795.26 718.8,795.26 727.58,795.26 736.37,795.26 745.15,795.26 753.94,795.26 762.72,795.26 771.51,795.26 780.29,795.26 789.08,795.26 797.86,795.26 806.65,795.26 815.43,795.26 824.22,795.26 833,795.26 841.79,795.26 850.57,795.26 859.36,795.26 868.14,795.26 876.93,795.26 885.71,795.26 894.49,795.26 903.28,795.26 912.06,795.26 920.85,795.26 929.63,795.26 938.42,795.26 947.2,795.26 955.99,795.26 964.77,795.26" fill="none" stroke="#ff00ff" stroke-width="3.2" stroke-linejoin="round" stroke-dasharray="12 12"/>
<path d="M77.3 790.1L95.3 790.1L86.3 805.6ZM86.08 790.1L104.08 790.1L95.08 805.6ZM94.87 790.1L112.87 790.1L103.87 805.6ZM103.65 790.1L121.65 790.1L112.65 805.6ZM112.44 790.1L130.44 790.1L121.44 805.6ZM121.22 790.1L139.22 790.1L130.22 805.6ZM130.01 790.1L148.01 790.1L139.01 805.6ZM138.79 790.1L156.79 790.1L147.79 805.6ZM147.58 790.1L165.58 790.1L156.58 805.6ZM156.36 790.1L174.36 790.1L165.36 805.6ZM165.15 790.1L183.15 790.1L174.15 805.6ZM173.93 790.1L191.93 790.1L182.93 805.6ZM182.72 790.1L200.72 790.1L191.72 805.6ZM191.5 790.1L209.5 790.1L200.5 805.6ZM200.29 790.1L218.29 790.1L209.29 805.6ZM209.07 790.1L227.07 790.1L218.07 805.6ZM217.86 790.1L235.86 790.1L226.86 805.6ZM226.64 790.1L244.64 790.1L235.64 805.6ZM235.43 790.1L253.43 790.1L244.43 805.6ZM244.21 790.1L262.21 790.1L253.21 805.6ZM252.99 790.1L270.99 790.1L261.99 805.6ZM261.78 790.1L279.78 790.1L270.78 805.6ZM270.56 790.1L288.56 790.1L279.56 805.6ZM279.35 790.1L297.35 790.1L288.35 805.6ZM288.13 790.1L306.13 790.1L297.13 805.6ZM296.92 790.1L314.92 790.1L305.92 805.6ZM305.7 790.1L323.7 790.1L314.7 805.6ZM314.49 790.1L332.49 790.1L323.49 805.6ZM323.27 790.1L341.27 790.1L332.27 805.6ZM332.06 790.1L350.06 790.1L341.06 805.6ZM340.84 790.1L358.84 790.1L349.84 805.6ZM349.63 790.1L367.63 790.1L358.63 805.6ZM358.41 790.1L376.41 790.1L367.41 805.6ZM367.2 790.1L385.2 790.1L376.2 805.6ZM375.98 790.1L393.98 790.1L384.98 805.6ZM384.77 790.1L402.77 790.1L393.77 805.6ZM393.55 790.1L411.55 790.1L402.55 805.6ZM402.33 790.1L420.33 790.1L411.33 805.6ZM411.12 790.1L429.12 790.1L420.12 805.6ZM419.9 790.1L437.9 790.1L428.9 805.6ZM428.69 790.1L446.69 790.1L437.69 805.6ZM437.47 790.1L455.47 790.1L446.47 805.6ZM446.26 790.1L464.26 790.1L455.26 805.6ZM455.04 790.1L473.04 790.1L464.04 805.6ZM463.83 790.1L481.83 790.1L472.83 805.6ZM472.61 790.1L490.61 790.1L481.61 805.6ZM481.4 790.1L499.4 790.1L490.4 805.6ZM490.18 790.1L508.18 790.1L499.18 805.6ZM498.97 790.1L516.97 790.1L507.97 805.6ZM507.75 790.1L525.75 790.1L516.75 805.6ZM516.54 790.1L534.54 790.1L525.54 805.6ZM525.32 790.1L543.32 790.1L534.32 805.6ZM534.11 790.1L552.11 790.1L543.11 805.6ZM542.89 790.1L560.89 790.1L551.89 805.6ZM551.68 790.1L569.68 790.1L560.68 805.6ZM560.46 790.1L578.46 790.1L569.46 805.6ZM569.24 790.1L587.24 790.1L578.24 805.6ZM578.03 790.1L596.03 790.1L587.03 805.6ZM586.81 790.1L604.81 790.1L595.81 805.6ZM595.6 790.1L613.6 790.1L604.6 805.6ZM604.38 790.1L622.38 790.1L613.38 805.6ZM613.17 790.1L631.17 790.1L622.17 805.6ZM621.95 790.1L639.95 790.1L630.95 805.6ZM630.74 790.1L648.74 790.1L639.74 805.6ZM639.52 790.1L657.52 790.1L648.52 805.6ZM648.31 790.1L666.31 790.1L657.31 805.6ZM657.09 790.1L675.09 790.1L666.09 805.6ZM665.88 790.1L683.88 790.1L674.88 805.6ZM674.66 790.1L692.66 790.1L683.66 805.6ZM683.45 790.1L701.45 790.1L692.45 805.6ZM692.23 790.1L710.23 790.1L701.23 805.6ZM701.02 790.1L719.02 790.1L710.02 805.6ZM709.8 790.1L727.8 790.1L718.8 805.6ZM718.58 790.1L736.58 790.1L727.58 805.6ZM727.37 790.1L745.37 790.1L736.37 805.6ZM736.15 790.1L754.15 790.1L745.15 805.6ZM744.94 790.1L762.94 790.1L753.94 805.6ZM753.72 790.1L771.72 790.1L762.72 805.6ZM762.51 790.1L780.51 790.1L771.51 805.6ZM771.29 790.1L789.29 790.1L780.29 805.6ZM780.08 790.1L798.08 790.1L789.08 805.6ZM788.86 790.1L806.86 790.1L797.86 805.6ZM797.65 790.1L815.65 790.1L806.65 805.6ZM806.43 790.1L824.43 790.1L815.43 805.6ZM815.22 790.1L833.22 790.1L824.22 805.6ZM824 790.1L842 790.1L833 805.6ZM832.79 790.1L850.79 790.1L841.79 805.6ZM841.57 790.1L859.57 790.1L850.57 805.6ZM850.36 790.1L868.36 790.1L859.36 805.6ZM859.14 790.1L877.14 790.1L868.14 805.6ZM867.93 790.1L885.93 790.1L876.93 805.6ZM876.71 790.1L894.71 790.1L885.71 805.6ZM885.49 790.1L903.49 790.1L894.49 805.6ZM894.28 790.1L912.28 790.1L903.28 805.6ZM903.06 790.1L921.06 790.1L912.06 805.6ZM911.85 790.1L929.85 790.1L920.85 805.6ZM920.63 790.1L938.63 790.1L929.63 805.6ZM929.42 790.1L947.42 790.1L938.42 805.6ZM938.2 790.1L956.2 790.1L947.2 805.6ZM946.99 790.1L964.99 790.1L955.99 805.6ZM955.77 790.1L973.77 790.1L964.77 805.6Z" fill="#ff00ff"/>
<polyline points="86.3,794.49 95.08,794.49 103.87,794.49 112.65,794.49 121.44,794.49 130.22,794.49 139.01,794.49 147.79,794.49 156.58,794.49 165.36,794.49 174.15,794.49 182.93,794.49 191.72,794.49 200.5,794.49 209.29,794.49 218.07,794.49 226.86,794.49 235.64,794.49 244.43,794.49 253.21,794.49 261.99,794.49 270.78,794.49 279.56,794.49 288.35,794.49 297.13,794.49 305.92,794.49 314.7,794.49 323.49,794.49 332.27,794.49 341.06,794.49 349.84,794.49 358.63,794.49 367.41,794.49 376.2,794.49 384.98,794.49 393.77,794.49 402.55,794.49 411.33,794.49 420.12,794.49 428.9,794.49 437.69,794.49 446.47,794.49 455.26,794.49 464.04,794.49 472.83,794.49 481.61,794.49 490.4,794.49 499.18,794.49 507.97,794.49 516.75,794.49 525.54,794.49 534.32,794.49 543.11,794.49 551.89,794.49 560.68,794.49 569.46,794.49 578.24,794.49 587.03,794.49 595.81,794.49 604.6,794.49 613.38,794.49 622.17,794.49 630.95,794.49 639.74,794.49 648.52,794.49 657.31,794.49 666.09,794.49 674.88,794.49 683.66,794.49 692.45,794.49 701.23,794.49 710.02,794.49 718.8,794.49 727.58,794.49 736.37,794.49 745.15,794.49 753.94,794.49 762.72,794.49 771.51,794.49 780.29,794.49 789.08,794.49 797.86,794.49 806.65,794.49 815.43,794.49 824.22,794.49 833,794.49 841.79,794.49 850.57,794.49 859.36,794.49 868.14,794.49 876.93,794.49 885.71,794.49 894.49,794.49 903.28,794.49 912.06,794.49 920.85,794.49 929.63,794.49 938.42,794.49 947.2,794.49 955.99,794.49 964.77,794.49" fill="none" stroke="#000000" stroke-width="3" stroke-linejoin="round" stroke-dasharray="12 12"/>
<path d="M81.8 794.49a4.5 4.5 0 1 0 9 0a4.5 4.5 0 1 0 -9 0ZM90.58 794.49a4.5 4.5 0 1 0 9 0a4.5 4.5 0 1 0 -9 0ZM99.37 794.49a4.5 4.5 0 1 0 9 0a4.5 4.5 0 1 0 -9 0ZM108.15 794.49a4.5 4.5 0 1 0 9 0a4.5 4.5 0 1 0 -9 0ZM116.94 794.49a4.5 4.5 0 1 0 9 0a4.5 4.5 0 1 0 -9 0ZM125.72 794.49a4.5 4.5 0 1 0 9 0a4.5 4.5 0 1 0 -9 0ZM134.51 794.49a4.5 4.5 0 1 0 9 0a4.5 4.5 0 1 0 -9 0ZM143.29 794.49a4.5 4.5 0 1 0 9 0a4.5 4.5 0 1 0 -9 0ZM152.08 794.49a4.5 4.5 0 1 0 9 0a4.5 4.5 0 1 0 -9 0ZM160.86 794.49a4.5 4.5 0 1 0 9 0a4.5 4.5 0 1 0 -9 0ZM169.65 794.49a4.5 4.5 0 1 0 9 0a4.5 4.5 0 1 0 -9 0ZM178.43 794.49a4.5 4.5 0 1 0 9 0a4.5 4.5 0 1 0 -9 0ZM187.22 794.49a4.5 4.5 0 1 0 9 0a4.5 4.5 0 1 0 -9 0ZM196 794.49a4.5 4.5 0 1 0 9 0a4.5 4.5 0 1 0 -9 0ZM204.79 794.49a4.5 4.5 0 1 0 9 0a4.5 4.5 0 1 0 -9 0ZM213.57 794.49a4.5 4.5 0 1 0 9 0a4.5 4.5 0 1 0 -9 0ZM222.36 794.49a4.5 4.5 0 1 0 9 0a4.5 4.5 0 1 0 -9 0ZM231.14 794.49a4.5 4.5 0 1 0 9 0a4.5 4.5 0 1 0 -9 0ZM239.93 794.49a4.5 4.5 0 1 0 9 0a4.5 4.5 0 1 0 -9 0ZM248.71 794.49a4.5 4.5 0 1 0 9 0a4.5 4.5 0 1 0 -9 0ZM257.49 794.49a4.5 4.5 0 1 0 9 0a4.5 4.5 0 1 0 -9 0ZM266.28 794.49a4.5 4.5 0 1 0 9 0a4.5 4.5 0 1 0 -9 0ZM275.06 794.49a4.5 4.5 0 1 0 9 0a4.5 4.5 0 1 0 -9 0ZM283.85 794.49a4.5 4.5 0 1 0 9 0a4.5 4.5 0 1 0 -9 0ZM292.63 794.49a4.5 4.5 0 1 0 9 0a4.5 4.5 0 1 0 -9 0ZM301.42 794.49a4.5 4.5 0 1 0 9 0a4.5 4.5 0 1 0 -9 0ZM310.2 794.49a4.5 4.5 0 1 0 9 0a4.5 4.5 0 1 0 -9 0ZM318.99 794.49a4.5 4.5 0 1 0 9 0a4.5 4.5 0 1 0 -9 0ZM327.77 794.49a4.5 4.5 0 1 0 9 0a4.5 4.5 0 1 0 -9 0ZM336.56 794.49a4.5 4.5 0 1 0 9 0a4.5 4.5 0 1 0 -9 0ZM345.34 794.49a4.5 4.5 0 1 0 9 0a4.5 4.5 0 1 0 -9 0ZM354.13 794.49a4.5 4.5 0 1 0 9 0a4.5 4.5 0 1 0 -9 0ZM362.91 794.49a4.5 4.5 0 1 0 9 0a4.5 4.5 0 1 0 -9 0ZM371.7 794.49a4.5 4.5 0 1 0 9 0a4.5 4.5 0 1 0 -9 0ZM380.48 794.49a4.5 4.5 0 1 0 9 0a4.5 4.5 0 1 0 -9 0ZM389.27 794.49a4.5 4.5 0 1 0 9 0a4.5 4.5 0 1 0 -9 0ZM398.05 794.49a4.5 4.5 0 1 0 9 0a4.5 4.5 0 1 0 -9 0ZM406.83 794.49a4.5 4.5 0 1 0 9 0a4.5 4.5 0 1 0 -9 0ZM415.62 794.49a4.5 4.5 0 1 0 9 0a4.5 4.5 0 1 0 -9 0ZM424.4 794.49a4.5 4.5 0 1 0 9 0a4.5 4.5 0 1 0 -9 0ZM433.19 794.49a4.5 4.5 0 1 0 9 0a4.5 4.5 0 1 0 -9 0ZM441.97 794.49a4.5 4.5 0 1 0 9 0a4.5 4.5 0 1 0 -9 0ZM450.76 794.49a4.5 4.5 0 1 0 9 0a4.5 4.5 0 1 0 -9 0ZM459.54 794.49a4.5 4.5 0 1 0 9 0a4.5 4.5 0 1 0 -9 0ZM468.33 794.49a4.5 4.5 0 1 0 9 0a4.5 4.5 0 1 0 -9 0ZM477.11 794.49a4.5 4.5 0 1 0 9 0a4.5 4.5 0 1 0 -9 0ZM485.9 794.49a4.5 4.5 0 1 0 9 0a4.5 4.5 0 1 0 -9 0ZM494.68 794.49a4.5 4.5 0 1 0 9 0a4.5 4.5 0 1 0 -9 0ZM503.47 794.49a4.5 4.5 0 1 0 9 0a4.5 4.5 0 1 0 -9 0ZM512.25 794.49a4.5 4.5 0 1 0 9 0a4.5 4.5 0 1 0 -9 0ZM521.04 794.49a4.5 4.5 0 1 0 9 0a4.5 4.5 0 1 0 -9 0ZM529.82 794.49a4.5 4.5 0 1 0 9 0a4.5 4.5 0 1 0 -9 0ZM538.61 794.49a4.5 4.5 0 1 0 9 0a4.5 4.5 0 1 0 -9 0ZM547.39 794.49a4.5 4.5 0 1 0 9 0a4.5 4.5 0 1 0 -9 0ZM556.18 794.49a4.5 4.5 0 1 0 9 0a4.5 4.5 0 1 0 -9 0ZM564.96 794.49a4.5 4.5 0 1 0 9 0a4.5 4.5 0 1 0 -9 0ZM573.74 794.49a4.5 4.5 0 1 0 9 0a4.5 4.5 0 1 0 -9 0ZM582.53 794.49a4.5 4.5 0 1 0 9 0a4.5 4.5 0 1 0 -9 0ZM591.31 794.49a4.5 4.5 0 1 0 9 0a4.5 4.5 0 1 0 -9 0ZM600.1 794.49a4.5 4.5 0 1 0 9 0a4.5 4.5 0 1 0 -9 0ZM608.88 794.49a4.5 4.5 0 1 0 9 0a4.5 4.5 0 1 0 -9 0ZM617.67 794.49a4.5 4.5 0 1 0 9 0a4.5 4.5 0 1 0 -9 0ZM626.45 794.49a4.5 4.5 0 1 0 9 0a4.5 4.5 0 1 0 -9 0ZM635.24 794.49a4.5 4.5 0 1 0 9 0a4.5 4.5 0 1 0 -9 0ZM644.02 794.49a4.5 4.5 0 1 0 9 0a4.5 4.5 0 1 0 -9 0ZM652.81 794.49a4.5 4.5 0 1 0 9 0a4.5 4.5 0 1 0 -9 0ZM661.59 794.49a4.5 4.5 0 1 0 9 0a4.5 4.5 0 1 0 -9 0ZM670.38 794.49a4.5 4.5 0 1 0 9 0a4.5 4.5 0 1 0 -9 0ZM679.16 794.49a4.5 4.5 0 1 0 9 0a4.5 4.5 0 1 0 -9 0ZM687.95 794.49a4.5 4.5 0 1 0 9 0a4.5 4.5 0 1 0 -9 0ZM696.73 794.49a4.5 4.5 0 1 0 9 0a4.5 4.5 0 1 0 -9 0ZM705.52 794.49a4.5 4.5 0 1 0 9 0a4.5 4.5 0 1 0 -9 0ZM714.3 794.49a4.5 4.5 0 1 0 9 0a4.5 4.5 0 1 0 -9 0ZM723.08 794.49a4.5 4.5 0 1 0 9 0a4.5 4.5 0 1 0 -9 0ZM731.87 794.49a4.5 4.5 0 1 0 9 0a4.5 4.5 0 1 0 -9 0ZM740.65 794.49a4.5 4.5 0 1 0 9 0a4.5 4.5 0 1 0 -9 0ZM749.44 794.49a4.5 4.5 0 1 0 9 0a4.5 4.5 0 1 0 -9 0ZM758.22 794.49a4.5 4.5 0 1 0 9 0a4.5 4.5 0 1 0 -9 0ZM767.01 794.49a4.5 4.5 0 1 0 9 0a4.5 4.5 0 1 0 -9 0ZM775.79 794.49a4.5 4.5 0 1 0 9 0a4.5 4.5 0 1 0 -9 0ZM784.58 794.49a4.5 4.5 0 1 0 9 0a4.5 4.5 0 1 0 -9 0ZM793.36 794.49a4.5 4.5 0 1 0 9 0a4.5 4.5 0 1 0 -9 0ZM802.15 794.49a4.5 4.5 0 1 0 9 0a4.5 4.5 0 1 0 -9 0ZM810.93 794.49a4.5 4.5 0 1 0 9 0a4.5 4.5 0 1 0 -9 0ZM819.72 794.49a4.5 4.5 0 1 0 9 0a4.5 4.5 0 1 0 -9 0ZM828.5 794.49a4.5 4.5 0 1 0 9 0a4.5 4.5 0 1 0 -9 0ZM837.29 794.49a4.5 4.5 0 1 0 9 0a4.5 4.5 0 1 0 -9 0ZM846.07 794.49a4.5 4.5 0 1 0 9 0a4.5 4.5 0 1 0 -9 0ZM854.86 794.49a4.5 4.5 0 1 0 9 0a4.5 4.5 0 1 0 -9 0ZM863.64 794.49a4.5 4.5 0 1 0 9 0a4.5 4.5 0 1 0 -9 0ZM872.43 794.49a4.5 4.5 0 1 0 9 0a4.5 4.5 0 1 0 -9 0ZM881.21 794.49a4.5 4.5 0 1 0 9 0a4.5 4.5 0 1 0 -9 0ZM889.99 794.49a4.5 4.5 0 1 0 9 0a4.5 4.5 0 1 0 -9 0ZM898.78 794.49a4.5 4.5 0 1 0 9 0a4.5 4.5 0 1 0 -9 0ZM907.56 794.49a4.5 4.5 0 1 0 9 0a4.5 4.5 0 1 0 -9 0ZM916.35 794.49a4.5 4.5 0 1 0 9 0a4.5 4.5 0 1 0 -9 0ZM925.13 794.49a4.5 4.5 0 1 0 9 0a4.5 4.5 0 1 0 -9 0ZM933.92 794.49a4.5 4.5 0 1 0 9 0a4.5 4.5 0 1 0 -9 0ZM942.7 794.49a4.5 4.5 0 1 0 9 0a4.5 4.5 0 1 0 -9 0ZM951.49 794.49a4.5 4.5 0 1 0 9 0a4.5 4.5 0 1 0 -9 0ZM960.27 794.49a4.5 4.5 0 1 0 9 0a4.5 4.5 0 1 0 -9 0Z" fill="#000000"/>
<path d="M83.8 794.49H966.92" stroke="#000" stroke-width="8.0" fill="none"/>
<g font-size="25"><text x="82" y="804.5" text-anchor="end">0</text><text x="82" y="727.04" text-anchor="end">0.1</text><text x="82" y="649.58" text-anchor="end">0.2</text><text x="82" y="572.12" text-anchor="end">0.3</text><text x="82" y="494.66" text-anchor="end">0.4</text><text x="82" y="417.2" text-anchor="end">0.5</text><text x="82" y="339.74" text-anchor="end">0.6</text><text x="82" y="262.28" text-anchor="end">0.7</text><text x="82" y="184.82" text-anchor="end">0.8</text><text x="82" y="107.36" text-anchor="end">0.9</text><text x="82" y="29.9" text-anchor="end">1</text><text x="86.3" y="838.9" text-anchor="middle">0</text><text x="174.2" y="838.9" text-anchor="middle">5</text><text x="262.1" y="838.9" text-anchor="middle">10</text><text x="350" y="838.9" text-anchor="middle">15</text><text x="437.9" y="838.9" text-anchor="middle">20</text><text x="525.8" y="838.9" text-anchor="middle">25</text><text x="613.7" y="838.9" text-anchor="middle">30</text><text x="701.6" y="838.9" text-anchor="middle">35</text><text x="789.5" y="838.9" text-anchor="middle">40</text><text x="877.4" y="838.9" text-anchor="middle">45</text><text x="965.3" y="838.9" text-anchor="middle">50</text></g>
<text x="489.2" y="882" font-size="37.2">x/a</text>
<text x="539.6" y="899.5" font-size="28.5">0</text>
<text transform="translate(30.8 409.4) rotate(-90)" text-anchor="middle" font-size="37.3">Normalized PLDOS</text>
<text class="b" x="832.3" y="87.6" font-size="30.5" letter-spacing="0.6">(a)</text>
<path d="M117.3 43.9H164.6" stroke="#0000ff" stroke-width="4.6" fill="none"/>
<path d="M134.4 43.9a6.6 6.6 0 1 0 13.2 0a6.6 6.6 0 1 0 -13.2 0Z" fill="#0000ff"/>
<path d="M117.3 100.3H164.6" stroke="#ff0000" stroke-width="4" fill="none"/>
<path d="M141 90.6L143.25 97.51L150.51 97.51L144.63 101.78L146.88 108.69L141 104.42L135.12 108.69L137.37 101.78L131.49 97.51L138.75 97.51Z" fill="#ff0000"/>
<path d="M117.3 157.2H164.6" stroke="#00ff00" stroke-width="3" fill="none"/>
<path d="M137.3 153.5h7.4v7.4h-7.4Z" fill="none" stroke="#00ff00" stroke-width="3.4"/>
<path d="M117.3 213.6H127.8M154.6 213.6H164.6" stroke="#00ffff" stroke-width="3.8" fill="none"/>
<path d="M141 204L148.6 213.6L141 223.2L133.4 213.6Z" fill="#00ffff"/>
<path d="M117.3 269.8H127.8M154.6 269.8H164.6" stroke="#ff00ff" stroke-width="3.6" fill="none"/>
<path d="M132 265.07L150 265.07L141 279.27Z" fill="#ff00ff"/>
<path d="M117.3 326H127.8M154.6 326H164.6" stroke="#000000" stroke-width="2.4" fill="none"/>
<path d="M137.9 326H144.9M141.4 322.5V329.5M138.93 323.53L143.87 328.47M138.93 328.47L143.87 323.53" fill="none" stroke="#000" stroke-width="3.2" stroke-linecap="round"/>
<text class="b" x="168" y="49.2" font-size="31">Mo:d<tspan dx="1.5" dy="15.5" font-size="24">z</tspan><tspan dx="0" dy="-15.5" font-size="19.5" font-weight="normal" stroke-width="0.45">2</tspan></text>
<text class="b" x="168" y="105.6" font-size="31">Mo:d<tspan dx="1.5" dy="15.5" font-size="24">x</tspan><tspan dx="0" dy="-15.8" font-size="19.5" font-weight="normal" stroke-width="0.45">2</tspan><tspan dx="0" dy="15.8" font-size="24">−</tspan><tspan dx="0" dy="0" font-size="24">y</tspan><tspan dx="0" dy="-15.8" font-size="19.5" font-weight="normal" stroke-width="0.45">2</tspan></text>
<text class="b" x="168" y="162.2" font-size="31">Mo:d<tspan dx="1.5" dy="15.5" font-size="24">xy</tspan></text>
<text class="b" x="167.2" y="218.6" font-size="31">S:<tspan dx="0.8">p</tspan><tspan dx="1.5" dy="15.5" font-size="24">x</tspan></text>
<text class="b" x="167.2" y="275" font-size="31">S:<tspan dx="0.8">p</tspan><tspan dx="1.5" dy="15.5" font-size="24">y</tspan></text>
<text class="b" x="167.2" y="331.2" font-size="31">S:<tspan dx="0.8">p</tspan><tspan dx="1.5" dy="15.5" font-size="24">z</tspan></text>
<g stroke-width="1.7" fill="none"><path d="M1103.9 807.4v-5.8" stroke="#555"/><path d="M1103.9 6.8v5.8" stroke="#333"/><path d="M1190.19 807.4v-5.8" stroke="#555"/><path d="M1190.19 6.8v5.8" stroke="#333"/><path d="M1276.48 807.4v-5.8" stroke="#555"/><path d="M1276.48 6.8v5.8" stroke="#333"/><path d="M1362.76 807.4v-5.8" stroke="#555"/><path d="M1362.76 6.8v5.8" stroke="#333"/><path d="M1449.05 807.4v-5.8" stroke="#555"/><path d="M1449.05 6.8v5.8" stroke="#333"/><path d="M1535.34 807.4v-5.8" stroke="#555"/><path d="M1535.34 6.8v5.8" stroke="#333"/><path d="M1621.62 807.4v-5.8" stroke="#555"/><path d="M1621.62 6.8v5.8" stroke="#333"/><path d="M1707.91 807.4v-5.8" stroke="#555"/><path d="M1707.91 6.8v5.8" stroke="#333"/><path d="M1794.2 807.4v-5.8" stroke="#555"/><path d="M1794.2 6.8v5.8" stroke="#333"/><path d="M1880.49 807.4v-5.8" stroke="#555"/><path d="M1880.49 6.8v5.8" stroke="#333"/><path d="M1966.78 807.4v-5.8" stroke="#555"/><path d="M1966.78 6.8v5.8" stroke="#333"/><path d="M1103.9 792.1h7.6" stroke="#111"/><path d="M1967.9 792.1h-7.6" stroke="#555"/><path d="M1103.9 717.29h7.6" stroke="#111"/><path d="M1967.9 717.29h-7.6" stroke="#555"/><path d="M1103.9 642.48h7.6" stroke="#111"/><path d="M1967.9 642.48h-7.6" stroke="#555"/><path d="M1103.9 567.67h7.6" stroke="#111"/><path d="M1967.9 567.67h-7.6" stroke="#555"/><path d="M1103.9 492.86h7.6" stroke="#111"/><path d="M1967.9 492.86h-7.6" stroke="#555"/><path d="M1103.9 418.05h7.6" stroke="#111"/><path d="M1967.9 418.05h-7.6" stroke="#555"/><path d="M1103.9 343.24h7.6" stroke="#111"/><path d="M1967.9 343.24h-7.6" stroke="#555"/><path d="M1103.9 268.43h7.6" stroke="#111"/><path d="M1967.9 268.43h-7.6" stroke="#555"/><path d="M1103.9 193.62h7.6" stroke="#111"/><path d="M1967.9 193.62h-7.6" stroke="#555"/><path d="M1103.9 118.81h7.6" stroke="#111"/><path d="M1967.9 118.81h-7.6" stroke="#555"/><path d="M1103.9 44h7.6" stroke="#111"/><path d="M1967.9 44h-7.6" stroke="#555"/></g>
<g stroke-width="1.7" fill="none" stroke-linecap="square">
<path d="M1103.9 807.4H1967.9" stroke="#303030"/>
<path d="M1967.9 6.8V807.4" stroke="#000"/>
<path d="M1103.9 6.8H1967.9" stroke="#000" stroke-width="1.5"/>
<path d="M1103.9 6.8V807.4" stroke="#000"/>
</g>
<path d="M1967.6 6.8v8M1967.6 808.3v-6.5" stroke="#000" stroke-width="2.4" fill="none"/>
<polyline points="1103.9,469.74 1121.16,554.49 1138.42,674.79 1155.67,414.24 1172.93,723.54 1190.19,717.24 1207.45,616.37 1224.7,754.52 1241.96,742.74 1259.22,752.72 1276.48,743.87 1293.73,729.39 1310.99,789.99 1328.25,687.99 1345.51,674.49 1362.76,750.62 1380.02,599.79 1397.28,597.69 1414.54,663.47 1431.79,503.49 1449.05,525.99 1466.31,569.79 1483.57,429.62 1500.82,488.79 1518.08,504.24 1535.34,400.44 1552.6,501.99 1569.85,487.74 1587.11,425.12 1604.37,564.47 1621.62,520.14 1638.88,496.29 1656.14,657.09 1673.4,589.97 1690.66,590.49 1707.91,745.74 1725.17,666.69 1742.43,678.24 1759.68,789.24 1776.94,723.99 1794.2,739.89 1811.46,760.37 1828.72,743.87 1845.97,753.69 1863.23,627.84 1880.49,719.19 1897.75,726.62 1915,428.64 1932.26,678.99 1949.52,561.99 1966.78,477.24 1112.53,545.49 1129.79,44.49 1147.04,663.99 1164.3,668.49 1181.56,468.24 1198.82,730.59 1216.07,734.57 1233.33,690.24 1250.59,754.97 1267.85,741.69 1285.1,780.24 1302.36,720.62 1319.62,705.99 1336.88,777.54 1354.13,646.29 1371.39,636.99 1388.65,710.79 1405.91,549.99 1423.16,561.24 1440.42,614.49 1457.68,462.24 1474.94,502.74 1492.19,531.99 1509.45,408.39 1526.71,489.39 1543.97,488.79 1561.22,406.74 1578.48,528.62 1595.74,498.24 1613,455.64 1630.25,608.94 1647.51,552.77 1664.77,541.74 1682.03,705.99 1699.28,629.34 1716.54,638.12 1733.8,774.99 1751.06,700.07 1768.31,715.44 1785.57,779.49 1802.83,738.54 1820.09,751.82 1837.34,699.24 1854.6,735.39 1871.86,731.42 1889.12,482.49 1906.37,672.24 1923.63,667.74 1940.89,64.74 1958.15,548.49" fill="none" stroke="#0000ff" stroke-width="4.3" stroke-linejoin="round"/>
<path d="M1098 469.74a5.9 5.9 0 1 0 11.8 0a5.9 5.9 0 1 0 -11.8 0ZM1106.63 545.49a5.9 5.9 0 1 0 11.8 0a5.9 5.9 0 1 0 -11.8 0ZM1115.26 554.49a5.9 5.9 0 1 0 11.8 0a5.9 5.9 0 1 0 -11.8 0ZM1123.89 44.49a5.9 5.9 0 1 0 11.8 0a5.9 5.9 0 1 0 -11.8 0ZM1132.52 674.79a5.9 5.9 0 1 0 11.8 0a5.9 5.9 0 1 0 -11.8 0ZM1141.14 663.99a5.9 5.9 0 1 0 11.8 0a5.9 5.9 0 1 0 -11.8 0ZM1149.77 414.24a5.9 5.9 0 1 0 11.8 0a5.9 5.9 0 1 0 -11.8 0ZM1158.4 668.49a5.9 5.9 0 1 0 11.8 0a5.9 5.9 0 1 0 -11.8 0ZM1167.03 723.54a5.9 5.9 0 1 0 11.8 0a5.9 5.9 0 1 0 -11.8 0ZM1175.66 468.24a5.9 5.9 0 1 0 11.8 0a5.9 5.9 0 1 0 -11.8 0ZM1184.29 717.24a5.9 5.9 0 1 0 11.8 0a5.9 5.9 0 1 0 -11.8 0ZM1192.92 730.59a5.9 5.9 0 1 0 11.8 0a5.9 5.9 0 1 0 -11.8 0ZM1201.55 616.37a5.9 5.9 0 1 0 11.8 0a5.9 5.9 0 1 0 -11.8 0ZM1210.17 734.57a5.9 5.9 0 1 0 11.8 0a5.9 5.9 0 1 0 -11.8 0ZM1218.8 754.52a5.9 5.9 0 1 0 11.8 0a5.9 5.9 0 1 0 -11.8 0ZM1227.43 690.24a5.9 5.9 0 1 0 11.8 0a5.9 5.9 0 1 0 -11.8 0ZM1236.06 742.74a5.9 5.9 0 1 0 11.8 0a5.9 5.9 0 1 0 -11.8 0ZM1244.69 754.97a5.9 5.9 0 1 0 11.8 0a5.9 5.9 0 1 0 -11.8 0ZM1253.32 752.72a5.9 5.9 0 1 0 11.8 0a5.9 5.9 0 1 0 -11.8 0ZM1261.95 741.69a5.9 5.9 0 1 0 11.8 0a5.9 5.9 0 1 0 -11.8 0ZM1270.58 743.87a5.9 5.9 0 1 0 11.8 0a5.9 5.9 0 1 0 -11.8 0ZM1279.2 780.24a5.9 5.9 0 1 0 11.8 0a5.9 5.9 0 1 0 -11.8 0ZM1287.83 729.39a5.9 5.9 0 1 0 11.8 0a5.9 5.9 0 1 0 -11.8 0ZM1296.46 720.62a5.9 5.9 0 1 0 11.8 0a5.9 5.9 0 1 0 -11.8 0ZM1305.09 789.99a5.9 5.9 0 1 0 11.8 0a5.9 5.9 0 1 0 -11.8 0ZM1313.72 705.99a5.9 5.9 0 1 0 11.8 0a5.9 5.9 0 1 0 -11.8 0ZM1322.35 687.99a5.9 5.9 0 1 0 11.8 0a5.9 5.9 0 1 0 -11.8 0ZM1330.98 777.54a5.9 5.9 0 1 0 11.8 0a5.9 5.9 0 1 0 -11.8 0ZM1339.61 674.49a5.9 5.9 0 1 0 11.8 0a5.9 5.9 0 1 0 -11.8 0ZM1348.23 646.29a5.9 5.9 0 1 0 11.8 0a5.9 5.9 0 1 0 -11.8 0ZM1356.86 750.62a5.9 5.9 0 1 0 11.8 0a5.9 5.9 0 1 0 -11.8 0ZM1365.49 636.99a5.9 5.9 0 1 0 11.8 0a5.9 5.9 0 1 0 -11.8 0ZM1374.12 599.79a5.9 5.9 0 1 0 11.8 0a5.9 5.9 0 1 0 -11.8 0ZM1382.75 710.79a5.9 5.9 0 1 0 11.8 0a5.9 5.9 0 1 0 -11.8 0ZM1391.38 597.69a5.9 5.9 0 1 0 11.8 0a5.9 5.9 0 1 0 -11.8 0ZM1400.01 549.99a5.9 5.9 0 1 0 11.8 0a5.9 5.9 0 1 0 -11.8 0ZM1408.63 663.47a5.9 5.9 0 1 0 11.8 0a5.9 5.9 0 1 0 -11.8 0ZM1417.26 561.24a5.9 5.9 0 1 0 11.8 0a5.9 5.9 0 1 0 -11.8 0ZM1425.89 503.49a5.9 5.9 0 1 0 11.8 0a5.9 5.9 0 1 0 -11.8 0ZM1434.52 614.49a5.9 5.9 0 1 0 11.8 0a5.9 5.9 0 1 0 -11.8 0ZM1443.15 525.99a5.9 5.9 0 1 0 11.8 0a5.9 5.9 0 1 0 -11.8 0ZM1451.78 462.24a5.9 5.9 0 1 0 11.8 0a5.9 5.9 0 1 0 -11.8 0ZM1460.41 569.79a5.9 5.9 0 1 0 11.8 0a5.9 5.9 0 1 0 -11.8 0ZM1469.04 502.74a5.9 5.9 0 1 0 11.8 0a5.9 5.9 0 1 0 -11.8 0ZM1477.66 429.62a5.9 5.9 0 1 0 11.8 0a5.9 5.9 0 1 0 -11.8 0ZM1486.29 531.99a5.9 5.9 0 1 0 11.8 0a5.9 5.9 0 1 0 -11.8 0ZM1494.92 488.79a5.9 5.9 0 1 0 11.8 0a5.9 5.9 0 1 0 -11.8 0ZM1503.55 408.39a5.9 5.9 0 1 0 11.8 0a5.9 5.9 0 1 0 -11.8 0ZM1512.18 504.24a5.9 5.9 0 1 0 11.8 0a5.9 5.9 0 1 0 -11.8 0ZM1520.81 489.39a5.9 5.9 0 1 0 11.8 0a5.9 5.9 0 1 0 -11.8 0ZM1529.44 400.44a5.9 5.9 0 1 0 11.8 0a5.9 5.9 0 1 0 -11.8 0ZM1538.07 488.79a5.9 5.9 0 1 0 11.8 0a5.9 5.9 0 1 0 -11.8 0ZM1546.69 501.99a5.9 5.9 0 1 0 11.8 0a5.9 5.9 0 1 0 -11.8 0ZM1555.32 406.74a5.9 5.9 0 1 0 11.8 0a5.9 5.9 0 1 0 -11.8 0ZM1563.95 487.74a5.9 5.9 0 1 0 11.8 0a5.9 5.9 0 1 0 -11.8 0ZM1572.58 528.62a5.9 5.9 0 1 0 11.8 0a5.9 5.9 0 1 0 -11.8 0ZM1581.21 425.12a5.9 5.9 0 1 0 11.8 0a5.9 5.9 0 1 0 -11.8 0ZM1589.84 498.24a5.9 5.9 0 1 0 11.8 0a5.9 5.9 0 1 0 -11.8 0ZM1598.47 564.47a5.9 5.9 0 1 0 11.8 0a5.9 5.9 0 1 0 -11.8 0ZM1607.1 455.64a5.9 5.9 0 1 0 11.8 0a5.9 5.9 0 1 0 -11.8 0ZM1615.72 520.14a5.9 5.9 0 1 0 11.8 0a5.9 5.9 0 1 0 -11.8 0ZM1624.35 608.94a5.9 5.9 0 1 0 11.8 0a5.9 5.9 0 1 0 -11.8 0ZM1632.98 496.29a5.9 5.9 0 1 0 11.8 0a5.9 5.9 0 1 0 -11.8 0ZM1641.61 552.77a5.9 5.9 0 1 0 11.8 0a5.9 5.9 0 1 0 -11.8 0ZM1650.24 657.09a5.9 5.9 0 1 0 11.8 0a5.9 5.9 0 1 0 -11.8 0ZM1658.87 541.74a5.9 5.9 0 1 0 11.8 0a5.9 5.9 0 1 0 -11.8 0ZM1667.5 589.97a5.9 5.9 0 1 0 11.8 0a5.9 5.9 0 1 0 -11.8 0ZM1676.13 705.99a5.9 5.9 0 1 0 11.8 0a5.9 5.9 0 1 0 -11.8 0ZM1684.76 590.49a5.9 5.9 0 1 0 11.8 0a5.9 5.9 0 1 0 -11.8 0ZM1693.38 629.34a5.9 5.9 0 1 0 11.8 0a5.9 5.9 0 1 0 -11.8 0ZM1702.01 745.74a5.9 5.9 0 1 0 11.8 0a5.9 5.9 0 1 0 -11.8 0ZM1710.64 638.12a5.9 5.9 0 1 0 11.8 0a5.9 5.9 0 1 0 -11.8 0ZM1719.27 666.69a5.9 5.9 0 1 0 11.8 0a5.9 5.9 0 1 0 -11.8 0ZM1727.9 774.99a5.9 5.9 0 1 0 11.8 0a5.9 5.9 0 1 0 -11.8 0ZM1736.53 678.24a5.9 5.9 0 1 0 11.8 0a5.9 5.9 0 1 0 -11.8 0ZM1745.16 700.07a5.9 5.9 0 1 0 11.8 0a5.9 5.9 0 1 0 -11.8 0ZM1753.78 789.24a5.9 5.9 0 1 0 11.8 0a5.9 5.9 0 1 0 -11.8 0ZM1762.41 715.44a5.9 5.9 0 1 0 11.8 0a5.9 5.9 0 1 0 -11.8 0ZM1771.04 723.99a5.9 5.9 0 1 0 11.8 0a5.9 5.9 0 1 0 -11.8 0ZM1779.67 779.49a5.9 5.9 0 1 0 11.8 0a5.9 5.9 0 1 0 -11.8 0ZM1788.3 739.89a5.9 5.9 0 1 0 11.8 0a5.9 5.9 0 1 0 -11.8 0ZM1796.93 738.54a5.9 5.9 0 1 0 11.8 0a5.9 5.9 0 1 0 -11.8 0ZM1805.56 760.37a5.9 5.9 0 1 0 11.8 0a5.9 5.9 0 1 0 -11.8 0ZM1814.19 751.82a5.9 5.9 0 1 0 11.8 0a5.9 5.9 0 1 0 -11.8 0ZM1822.82 743.87a5.9 5.9 0 1 0 11.8 0a5.9 5.9 0 1 0 -11.8 0ZM1831.44 699.24a5.9 5.9 0 1 0 11.8 0a5.9 5.9 0 1 0 -11.8 0ZM1840.07 753.69a5.9 5.9 0 1 0 11.8 0a5.9 5.9 0 1 0 -11.8 0ZM1848.7 735.39a5.9 5.9 0 1 0 11.8 0a5.9 5.9 0 1 0 -11.8 0ZM1857.33 627.84a5.9 5.9 0 1 0 11.8 0a5.9 5.9 0 1 0 -11.8 0ZM1865.96 731.42a5.9 5.9 0 1 0 11.8 0a5.9 5.9 0 1 0 -11.8 0ZM1874.59 719.19a5.9 5.9 0 1 0 11.8 0a5.9 5.9 0 1 0 -11.8 0ZM1883.22 482.49a5.9 5.9 0 1 0 11.8 0a5.9 5.9 0 1 0 -11.8 0ZM1891.85 726.62a5.9 5.9 0 1 0 11.8 0a5.9 5.9 0 1 0 -11.8 0ZM1900.47 672.24a5.9 5.9 0 1 0 11.8 0a5.9 5.9 0 1 0 -11.8 0ZM1909.1 428.64a5.9 5.9 0 1 0 11.8 0a5.9 5.9 0 1 0 -11.8 0ZM1917.73 667.74a5.9 5.9 0 1 0 11.8 0a5.9 5.9 0 1 0 -11.8 0ZM1926.36 678.99a5.9 5.9 0 1 0 11.8 0a5.9 5.9 0 1 0 -11.8 0ZM1934.99 64.74a5.9 5.9 0 1 0 11.8 0a5.9 5.9 0 1 0 -11.8 0ZM1943.62 561.99a5.9 5.9 0 1 0 11.8 0a5.9 5.9 0 1 0 -11.8 0ZM1952.25 548.49a5.9 5.9 0 1 0 11.8 0a5.9 5.9 0 1 0 -11.8 0ZM1960.88 477.24a5.9 5.9 0 1 0 11.8 0a5.9 5.9 0 1 0 -11.8 0Z" fill="none" stroke="#0000ff" stroke-width="4.8"/>
<path d="M1103.9 740.99L1106.41 748.73L1114.55 748.73L1107.97 753.52L1110.48 761.25L1103.9 756.47L1097.32 761.25L1099.83 753.52L1093.25 748.73L1101.39 748.73ZM1112.53 721.87L1115.04 729.61L1123.18 729.61L1116.6 734.39L1119.11 742.13L1112.53 737.35L1105.95 742.13L1108.46 734.39L1101.88 729.61L1110.01 729.61ZM1121.16 780L1123.67 787.74L1131.81 787.74L1125.23 792.52L1127.74 800.26L1121.16 795.48L1114.57 800.26L1117.09 792.52L1110.51 787.74L1118.64 787.74ZM1129.79 780L1132.3 787.74L1140.44 787.74L1133.86 792.52L1136.37 800.26L1129.79 795.48L1123.2 800.26L1125.72 792.52L1119.13 787.74L1127.27 787.74ZM1138.42 780L1140.93 787.74L1149.07 787.74L1142.48 792.52L1145 800.26L1138.42 795.48L1131.83 800.26L1134.35 792.52L1127.76 787.74L1135.9 787.74ZM1147.04 781.65L1149.56 789.39L1157.7 789.39L1151.11 794.17L1153.63 801.91L1147.04 797.13L1140.46 801.91L1142.97 794.17L1136.39 789.39L1144.53 789.39ZM1155.67 780L1158.19 787.74L1166.32 787.74L1159.74 792.52L1162.26 800.26L1155.67 795.48L1149.09 800.26L1151.6 792.52L1145.02 787.74L1153.16 787.74ZM1164.3 780L1166.82 787.74L1174.95 787.74L1168.37 792.52L1170.88 800.26L1164.3 795.48L1157.72 800.26L1160.23 792.52L1153.65 787.74L1161.79 787.74ZM1172.93 780L1175.44 787.74L1183.58 787.74L1177 792.52L1179.51 800.26L1172.93 795.48L1166.35 800.26L1168.86 792.52L1162.28 787.74L1170.42 787.74ZM1181.56 780L1184.07 787.74L1192.21 787.74L1185.63 792.52L1188.14 800.26L1181.56 795.48L1174.98 800.26L1177.49 792.52L1170.91 787.74L1179.04 787.74ZM1190.19 780L1192.7 787.74L1200.84 787.74L1194.26 792.52L1196.77 800.26L1190.19 795.48L1183.6 800.26L1186.12 792.52L1179.54 787.74L1187.67 787.74ZM1198.82 780L1201.33 787.74L1209.47 787.74L1202.89 792.52L1205.4 800.26L1198.82 795.48L1192.23 800.26L1194.75 792.52L1188.16 787.74L1196.3 787.74ZM1207.45 780L1209.96 787.74L1218.1 787.74L1211.51 792.52L1214.03 800.26L1207.45 795.48L1200.86 800.26L1203.38 792.52L1196.79 787.74L1204.93 787.74ZM1216.07 780L1218.59 787.74L1226.73 787.74L1220.14 792.52L1222.66 800.26L1216.07 795.48L1209.49 800.26L1212 792.52L1205.42 787.74L1213.56 787.74ZM1224.7 780L1227.22 787.74L1235.35 787.74L1228.77 792.52L1231.29 800.26L1224.7 795.48L1218.12 800.26L1220.63 792.52L1214.05 787.74L1222.19 787.74ZM1233.33 780L1235.85 787.74L1243.98 787.74L1237.4 792.52L1239.91 800.26L1233.33 795.48L1226.75 800.26L1229.26 792.52L1222.68 787.74L1230.82 787.74ZM1241.96 780L1244.47 787.74L1252.61 787.74L1246.03 792.52L1248.54 800.26L1241.96 795.48L1235.38 800.26L1237.89 792.52L1231.31 787.74L1239.45 787.74ZM1250.59 780L1253.1 787.74L1261.24 787.74L1254.66 792.52L1257.17 800.26L1250.59 795.48L1244.01 800.26L1246.52 792.52L1239.94 787.74L1248.07 787.74ZM1259.22 780L1261.73 787.74L1269.87 787.74L1263.29 792.52L1265.8 800.26L1259.22 795.48L1252.63 800.26L1255.15 792.52L1248.57 787.74L1256.7 787.74ZM1267.85 780L1270.36 787.74L1278.5 787.74L1271.92 792.52L1274.43 800.26L1267.85 795.48L1261.26 800.26L1263.78 792.52L1257.19 787.74L1265.33 787.74ZM1276.48 780L1278.99 787.74L1287.13 787.74L1280.54 792.52L1283.06 800.26L1276.48 795.48L1269.89 800.26L1272.41 792.52L1265.82 787.74L1273.96 787.74ZM1285.1 780L1287.62 787.74L1295.76 787.74L1289.17 792.52L1291.69 800.26L1285.1 795.48L1278.52 800.26L1281.03 792.52L1274.45 787.74L1282.59 787.74ZM1293.73 780L1296.25 787.74L1304.38 787.74L1297.8 792.52L1300.32 800.26L1293.73 795.48L1287.15 800.26L1289.66 792.52L1283.08 787.74L1291.22 787.74ZM1302.36 780L1304.88 787.74L1313.01 787.74L1306.43 792.52L1308.94 800.26L1302.36 795.48L1295.78 800.26L1298.29 792.52L1291.71 787.74L1299.85 787.74ZM1310.99 780L1313.5 787.74L1321.64 787.74L1315.06 792.52L1317.57 800.26L1310.99 795.48L1304.41 800.26L1306.92 792.52L1300.34 787.74L1308.48 787.74ZM1319.62 780L1322.13 787.74L1330.27 787.74L1323.69 792.52L1326.2 800.26L1319.62 795.48L1313.04 800.26L1315.55 792.52L1308.97 787.74L1317.1 787.74ZM1328.25 780L1330.76 787.74L1338.9 787.74L1332.32 792.52L1334.83 800.26L1328.25 795.48L1321.66 800.26L1324.18 792.52L1317.6 787.74L1325.73 787.74ZM1336.88 780L1339.39 787.74L1347.53 787.74L1340.95 792.52L1343.46 800.26L1336.88 795.48L1330.29 800.26L1332.81 792.52L1326.22 787.74L1334.36 787.74ZM1345.51 780L1348.02 787.74L1356.16 787.74L1349.57 792.52L1352.09 800.26L1345.51 795.48L1338.92 800.26L1341.44 792.52L1334.85 787.74L1342.99 787.74ZM1354.13 780L1356.65 787.74L1364.79 787.74L1358.2 792.52L1360.72 800.26L1354.13 795.48L1347.55 800.26L1350.06 792.52L1343.48 787.74L1351.62 787.74ZM1362.76 780L1365.28 787.74L1373.41 787.74L1366.83 792.52L1369.35 800.26L1362.76 795.48L1356.18 800.26L1358.69 792.52L1352.11 787.74L1360.25 787.74ZM1371.39 780L1373.91 787.74L1382.04 787.74L1375.46 792.52L1377.97 800.26L1371.39 795.48L1364.81 800.26L1367.32 792.52L1360.74 787.74L1368.88 787.74ZM1380.02 780L1382.53 787.74L1390.67 787.74L1384.09 792.52L1386.6 800.26L1380.02 795.48L1373.44 800.26L1375.95 792.52L1369.37 787.74L1377.51 787.74ZM1388.65 780L1391.16 787.74L1399.3 787.74L1392.72 792.52L1395.23 800.26L1388.65 795.48L1382.07 800.26L1384.58 792.52L1378 787.74L1386.13 787.74ZM1397.28 780L1399.79 787.74L1407.93 787.74L1401.35 792.52L1403.86 800.26L1397.28 795.48L1390.69 800.26L1393.21 792.52L1386.63 787.74L1394.76 787.74ZM1405.91 780L1408.42 787.74L1416.56 787.74L1409.98 792.52L1412.49 800.26L1405.91 795.48L1399.32 800.26L1401.84 792.52L1395.25 787.74L1403.39 787.74ZM1414.54 780L1417.05 787.74L1425.19 787.74L1418.6 792.52L1421.12 800.26L1414.54 795.48L1407.95 800.26L1410.47 792.52L1403.88 787.74L1412.02 787.74ZM1423.16 780L1425.68 787.74L1433.82 787.74L1427.23 792.52L1429.75 800.26L1423.16 795.48L1416.58 800.26L1419.09 792.52L1412.51 787.74L1420.65 787.74ZM1431.79 780L1434.31 787.74L1442.44 787.74L1435.86 792.52L1438.38 800.26L1431.79 795.48L1425.21 800.26L1427.72 792.52L1421.14 787.74L1429.28 787.74ZM1440.42 780L1442.94 787.74L1451.07 787.74L1444.49 792.52L1447 800.26L1440.42 795.48L1433.84 800.26L1436.35 792.52L1429.77 787.74L1437.91 787.74ZM1449.05 780L1451.56 787.74L1459.7 787.74L1453.12 792.52L1455.63 800.26L1449.05 795.48L1442.47 800.26L1444.98 792.52L1438.4 787.74L1446.54 787.74ZM1457.68 780L1460.19 787.74L1468.33 787.74L1461.75 792.52L1464.26 800.26L1457.68 795.48L1451.1 800.26L1453.61 792.52L1447.03 787.74L1455.16 787.74ZM1466.31 780L1468.82 787.74L1476.96 787.74L1470.38 792.52L1472.89 800.26L1466.31 795.48L1459.72 800.26L1462.24 792.52L1455.66 787.74L1463.79 787.74ZM1474.94 780L1477.45 787.74L1485.59 787.74L1479.01 792.52L1481.52 800.26L1474.94 795.48L1468.35 800.26L1470.87 792.52L1464.28 787.74L1472.42 787.74ZM1483.57 780L1486.08 787.74L1494.22 787.74L1487.63 792.52L1490.15 800.26L1483.57 795.48L1476.98 800.26L1479.5 792.52L1472.91 787.74L1481.05 787.74ZM1492.19 780L1494.71 787.74L1502.85 787.74L1496.26 792.52L1498.78 800.26L1492.19 795.48L1485.61 800.26L1488.12 792.52L1481.54 787.74L1489.68 787.74ZM1500.82 780L1503.34 787.74L1511.47 787.74L1504.89 792.52L1507.41 800.26L1500.82 795.48L1494.24 800.26L1496.75 792.52L1490.17 787.74L1498.31 787.74ZM1509.45 780L1511.97 787.74L1520.1 787.74L1513.52 792.52L1516.03 800.26L1509.45 795.48L1502.87 800.26L1505.38 792.52L1498.8 787.74L1506.94 787.74ZM1518.08 780L1520.59 787.74L1528.73 787.74L1522.15 792.52L1524.66 800.26L1518.08 795.48L1511.5 800.26L1514.01 792.52L1507.43 787.74L1515.57 787.74ZM1526.71 780L1529.22 787.74L1537.36 787.74L1530.78 792.52L1533.29 800.26L1526.71 795.48L1520.13 800.26L1522.64 792.52L1516.06 787.74L1524.19 787.74ZM1535.34 780L1537.85 787.74L1545.99 787.74L1539.41 792.52L1541.92 800.26L1535.34 795.48L1528.75 800.26L1531.27 792.52L1524.69 787.74L1532.82 787.74ZM1543.97 780L1546.48 787.74L1554.62 787.74L1548.04 792.52L1550.55 800.26L1543.97 795.48L1537.38 800.26L1539.9 792.52L1533.31 787.74L1541.45 787.74ZM1552.6 780L1555.11 787.74L1563.25 787.74L1556.66 792.52L1559.18 800.26L1552.6 795.48L1546.01 800.26L1548.53 792.52L1541.94 787.74L1550.08 787.74ZM1561.22 780L1563.74 787.74L1571.88 787.74L1565.29 792.52L1567.81 800.26L1561.22 795.48L1554.64 800.26L1557.15 792.52L1550.57 787.74L1558.71 787.74ZM1569.85 780L1572.37 787.74L1580.5 787.74L1573.92 792.52L1576.44 800.26L1569.85 795.48L1563.27 800.26L1565.78 792.52L1559.2 787.74L1567.34 787.74ZM1578.48 780L1581 787.74L1589.13 787.74L1582.55 792.52L1585.06 800.26L1578.48 795.48L1571.9 800.26L1574.41 792.52L1567.83 787.74L1575.97 787.74ZM1587.11 780L1589.62 787.74L1597.76 787.74L1591.18 792.52L1593.69 800.26L1587.11 795.48L1580.53 800.26L1583.04 792.52L1576.46 787.74L1584.6 787.74ZM1595.74 780L1598.25 787.74L1606.39 787.74L1599.81 792.52L1602.32 800.26L1595.74 795.48L1589.16 800.26L1591.67 792.52L1585.09 787.74L1593.22 787.74ZM1604.37 780L1606.88 787.74L1615.02 787.74L1608.44 792.52L1610.95 800.26L1604.37 795.48L1597.78 800.26L1600.3 792.52L1593.72 787.74L1601.85 787.74ZM1613 780L1615.51 787.74L1623.65 787.74L1617.07 792.52L1619.58 800.26L1613 795.48L1606.41 800.26L1608.93 792.52L1602.34 787.74L1610.48 787.74ZM1621.62 780L1624.14 787.74L1632.28 787.74L1625.69 792.52L1628.21 800.26L1621.62 795.48L1615.04 800.26L1617.56 792.52L1610.97 787.74L1619.11 787.74ZM1630.25 780L1632.77 787.74L1640.91 787.74L1634.32 792.52L1636.84 800.26L1630.25 795.48L1623.67 800.26L1626.18 792.52L1619.6 787.74L1627.74 787.74ZM1638.88 780L1641.4 787.74L1649.53 787.74L1642.95 792.52L1645.47 800.26L1638.88 795.48L1632.3 800.26L1634.81 792.52L1628.23 787.74L1636.37 787.74ZM1647.51 780L1650.03 787.74L1658.16 787.74L1651.58 792.52L1654.09 800.26L1647.51 795.48L1640.93 800.26L1643.44 792.52L1636.86 787.74L1645 787.74ZM1656.14 780L1658.65 787.74L1666.79 787.74L1660.21 792.52L1662.72 800.26L1656.14 795.48L1649.56 800.26L1652.07 792.52L1645.49 787.74L1653.63 787.74ZM1664.77 780L1667.28 787.74L1675.42 787.74L1668.84 792.52L1671.35 800.26L1664.77 795.48L1658.19 800.26L1660.7 792.52L1654.12 787.74L1662.25 787.74ZM1673.4 780L1675.91 787.74L1684.05 787.74L1677.47 792.52L1679.98 800.26L1673.4 795.48L1666.81 800.26L1669.33 792.52L1662.75 787.74L1670.88 787.74ZM1682.03 780L1684.54 787.74L1692.68 787.74L1686.1 792.52L1688.61 800.26L1682.03 795.48L1675.44 800.26L1677.96 792.52L1671.37 787.74L1679.51 787.74ZM1690.66 780L1693.17 787.74L1701.31 787.74L1694.72 792.52L1697.24 800.26L1690.66 795.48L1684.07 800.26L1686.59 792.52L1680 787.74L1688.14 787.74ZM1699.28 780L1701.8 787.74L1709.94 787.74L1703.35 792.52L1705.87 800.26L1699.28 795.48L1692.7 800.26L1695.21 792.52L1688.63 787.74L1696.77 787.74ZM1707.91 780L1710.43 787.74L1718.56 787.74L1711.98 792.52L1714.5 800.26L1707.91 795.48L1701.33 800.26L1703.84 792.52L1697.26 787.74L1705.4 787.74ZM1716.54 780L1719.06 787.74L1727.19 787.74L1720.61 792.52L1723.12 800.26L1716.54 795.48L1709.96 800.26L1712.47 792.52L1705.89 787.74L1714.03 787.74ZM1725.17 780L1727.68 787.74L1735.82 787.74L1729.24 792.52L1731.75 800.26L1725.17 795.48L1718.59 800.26L1721.1 792.52L1714.52 787.74L1722.66 787.74ZM1733.8 780L1736.31 787.74L1744.45 787.74L1737.87 792.52L1740.38 800.26L1733.8 795.48L1727.22 800.26L1729.73 792.52L1723.15 787.74L1731.28 787.74ZM1742.43 780L1744.94 787.74L1753.08 787.74L1746.5 792.52L1749.01 800.26L1742.43 795.48L1735.84 800.26L1738.36 792.52L1731.78 787.74L1739.91 787.74ZM1751.06 780L1753.57 787.74L1761.71 787.74L1755.13 792.52L1757.64 800.26L1751.06 795.48L1744.47 800.26L1746.99 792.52L1740.4 787.74L1748.54 787.74ZM1759.68 780L1762.2 787.74L1770.34 787.74L1763.75 792.52L1766.27 800.26L1759.68 795.48L1753.1 800.26L1755.62 792.52L1749.03 787.74L1757.17 787.74ZM1768.31 780L1770.83 787.74L1778.97 787.74L1772.38 792.52L1774.9 800.26L1768.31 795.48L1761.73 800.26L1764.24 792.52L1757.66 787.74L1765.8 787.74ZM1776.94 780L1779.46 787.74L1787.59 787.74L1781.01 792.52L1783.53 800.26L1776.94 795.48L1770.36 800.26L1772.87 792.52L1766.29 787.74L1774.43 787.74ZM1785.57 780L1788.09 787.74L1796.22 787.74L1789.64 792.52L1792.15 800.26L1785.57 795.48L1778.99 800.26L1781.5 792.52L1774.92 787.74L1783.06 787.74ZM1794.2 780L1796.71 787.74L1804.85 787.74L1798.27 792.52L1800.78 800.26L1794.2 795.48L1787.62 800.26L1790.13 792.52L1783.55 787.74L1791.69 787.74ZM1802.83 780L1805.34 787.74L1813.48 787.74L1806.9 792.52L1809.41 800.26L1802.83 795.48L1796.25 800.26L1798.76 792.52L1792.18 787.74L1800.31 787.74ZM1811.46 780L1813.97 787.74L1822.11 787.74L1815.53 792.52L1818.04 800.26L1811.46 795.48L1804.87 800.26L1807.39 792.52L1800.81 787.74L1808.94 787.74ZM1820.09 780L1822.6 787.74L1830.74 787.74L1824.16 792.52L1826.67 800.26L1820.09 795.48L1813.5 800.26L1816.02 792.52L1809.43 787.74L1817.57 787.74ZM1828.72 780L1831.23 787.74L1839.37 787.74L1832.78 792.52L1835.3 800.26L1828.72 795.48L1822.13 800.26L1824.65 792.52L1818.06 787.74L1826.2 787.74ZM1837.34 780L1839.86 787.74L1848 787.74L1841.41 792.52L1843.93 800.26L1837.34 795.48L1830.76 800.26L1833.27 792.52L1826.69 787.74L1834.83 787.74ZM1845.97 780L1848.49 787.74L1856.62 787.74L1850.04 792.52L1852.56 800.26L1845.97 795.48L1839.39 800.26L1841.9 792.52L1835.32 787.74L1843.46 787.74ZM1854.6 780L1857.12 787.74L1865.25 787.74L1858.67 792.52L1861.18 800.26L1854.6 795.48L1848.02 800.26L1850.53 792.52L1843.95 787.74L1852.09 787.74ZM1863.23 780L1865.74 787.74L1873.88 787.74L1867.3 792.52L1869.81 800.26L1863.23 795.48L1856.65 800.26L1859.16 792.52L1852.58 787.74L1860.72 787.74ZM1871.86 780L1874.37 787.74L1882.51 787.74L1875.93 792.52L1878.44 800.26L1871.86 795.48L1865.28 800.26L1867.79 792.52L1861.21 787.74L1869.34 787.74ZM1880.49 780L1883 787.74L1891.14 787.74L1884.56 792.52L1887.07 800.26L1880.49 795.48L1873.9 800.26L1876.42 792.52L1869.84 787.74L1877.97 787.74ZM1889.12 780L1891.63 787.74L1899.77 787.74L1893.19 792.52L1895.7 800.26L1889.12 795.48L1882.53 800.26L1885.05 792.52L1878.46 787.74L1886.6 787.74ZM1897.75 780L1900.26 787.74L1908.4 787.74L1901.81 792.52L1904.33 800.26L1897.75 795.48L1891.16 800.26L1893.68 792.52L1887.09 787.74L1895.23 787.74ZM1906.37 780L1908.89 787.74L1917.03 787.74L1910.44 792.52L1912.96 800.26L1906.37 795.48L1899.79 800.26L1902.3 792.52L1895.72 787.74L1903.86 787.74ZM1915 780L1917.52 787.74L1925.65 787.74L1919.07 792.52L1921.59 800.26L1915 795.48L1908.42 800.26L1910.93 792.52L1904.35 787.74L1912.49 787.74ZM1923.63 781.65L1926.15 789.39L1934.28 789.39L1927.7 794.17L1930.21 801.91L1923.63 797.13L1917.05 801.91L1919.56 794.17L1912.98 789.39L1921.12 789.39ZM1932.26 780L1934.77 787.74L1942.91 787.74L1936.33 792.52L1938.84 800.26L1932.26 795.48L1925.68 800.26L1928.19 792.52L1921.61 787.74L1929.75 787.74ZM1940.89 780L1943.4 787.74L1951.54 787.74L1944.96 792.52L1947.47 800.26L1940.89 795.48L1934.31 800.26L1936.82 792.52L1930.24 787.74L1938.37 787.74ZM1949.52 780L1952.03 787.74L1960.17 787.74L1953.59 792.52L1956.1 800.26L1949.52 795.48L1942.93 800.26L1945.45 792.52L1938.87 787.74L1947 787.74ZM1958.15 721.87L1960.66 729.61L1968.8 729.61L1962.22 734.39L1964.73 742.13L1958.15 737.35L1951.56 742.13L1954.08 734.39L1947.49 729.61L1955.63 729.61ZM1966.78 740.17L1969.29 747.91L1977.43 747.91L1970.84 752.69L1973.36 760.43L1966.78 755.65L1960.19 760.43L1962.71 752.69L1956.12 747.91L1964.26 747.91Z" fill="#ff0000" stroke="#ff0000" stroke-width="1.4" stroke-linejoin="round"/>
<path d="M1098.6 531.94h10.6v10.6h-10.6ZM1107.23 714.49h10.6v10.6h-10.6ZM1115.86 783.43h10.6v10.6h-10.6ZM1124.49 762.64h10.6v10.6h-10.6ZM1133.12 780.07h10.6v10.6h-10.6ZM1141.74 780.07h10.6v10.6h-10.6ZM1150.37 780.07h10.6v10.6h-10.6ZM1159 780.07h10.6v10.6h-10.6ZM1167.63 780.07h10.6v10.6h-10.6ZM1176.26 783.43h10.6v10.6h-10.6ZM1184.89 783.43h10.6v10.6h-10.6ZM1193.52 783.43h10.6v10.6h-10.6ZM1202.15 783.43h10.6v10.6h-10.6ZM1210.77 783.43h10.6v10.6h-10.6ZM1219.4 783.43h10.6v10.6h-10.6ZM1228.03 783.43h10.6v10.6h-10.6ZM1236.66 783.43h10.6v10.6h-10.6ZM1245.29 783.43h10.6v10.6h-10.6ZM1253.92 783.43h10.6v10.6h-10.6ZM1262.55 783.43h10.6v10.6h-10.6ZM1271.18 783.43h10.6v10.6h-10.6ZM1279.8 783.43h10.6v10.6h-10.6ZM1288.43 783.43h10.6v10.6h-10.6ZM1297.06 783.43h10.6v10.6h-10.6ZM1305.69 783.43h10.6v10.6h-10.6ZM1314.32 783.43h10.6v10.6h-10.6ZM1322.95 783.43h10.6v10.6h-10.6ZM1331.58 783.43h10.6v10.6h-10.6ZM1340.21 785.9h10.6v10.6h-10.6ZM1348.83 785.9h10.6v10.6h-10.6ZM1357.46 785.9h10.6v10.6h-10.6ZM1366.09 785.9h10.6v10.6h-10.6ZM1374.72 785.9h10.6v10.6h-10.6ZM1383.35 785.9h10.6v10.6h-10.6ZM1391.98 785.9h10.6v10.6h-10.6ZM1400.61 785.9h10.6v10.6h-10.6ZM1409.24 785.9h10.6v10.6h-10.6ZM1417.86 785.9h10.6v10.6h-10.6ZM1426.49 785.9h10.6v10.6h-10.6ZM1435.12 785.9h10.6v10.6h-10.6ZM1443.75 785.9h10.6v10.6h-10.6ZM1452.38 785.9h10.6v10.6h-10.6ZM1461.01 785.9h10.6v10.6h-10.6ZM1469.64 785.9h10.6v10.6h-10.6ZM1478.27 785.9h10.6v10.6h-10.6ZM1486.89 785.9h10.6v10.6h-10.6ZM1495.52 785.9h10.6v10.6h-10.6ZM1504.15 785.9h10.6v10.6h-10.6ZM1512.78 785.9h10.6v10.6h-10.6ZM1521.41 785.9h10.6v10.6h-10.6ZM1530.04 785.9h10.6v10.6h-10.6ZM1538.67 785.9h10.6v10.6h-10.6ZM1547.3 785.9h10.6v10.6h-10.6ZM1555.92 785.9h10.6v10.6h-10.6ZM1564.55 785.9h10.6v10.6h-10.6ZM1573.18 785.9h10.6v10.6h-10.6ZM1581.81 785.9h10.6v10.6h-10.6ZM1590.44 785.9h10.6v10.6h-10.6ZM1599.07 785.9h10.6v10.6h-10.6ZM1607.7 785.9h10.6v10.6h-10.6ZM1616.33 785.9h10.6v10.6h-10.6ZM1624.95 785.9h10.6v10.6h-10.6ZM1633.58 785.9h10.6v10.6h-10.6ZM1642.21 785.9h10.6v10.6h-10.6ZM1650.84 785.9h10.6v10.6h-10.6ZM1659.47 785.9h10.6v10.6h-10.6ZM1668.1 785.9h10.6v10.6h-10.6ZM1676.73 785.9h10.6v10.6h-10.6ZM1685.36 785.9h10.6v10.6h-10.6ZM1693.98 785.9h10.6v10.6h-10.6ZM1702.61 785.9h10.6v10.6h-10.6ZM1711.24 785.9h10.6v10.6h-10.6ZM1719.87 785.9h10.6v10.6h-10.6ZM1728.5 783.43h10.6v10.6h-10.6ZM1737.13 783.43h10.6v10.6h-10.6ZM1745.76 783.43h10.6v10.6h-10.6ZM1754.38 783.43h10.6v10.6h-10.6ZM1763.01 783.43h10.6v10.6h-10.6ZM1771.64 783.43h10.6v10.6h-10.6ZM1780.27 783.43h10.6v10.6h-10.6ZM1788.9 783.43h10.6v10.6h-10.6ZM1797.53 783.43h10.6v10.6h-10.6ZM1806.16 783.43h10.6v10.6h-10.6ZM1814.79 783.43h10.6v10.6h-10.6ZM1823.42 783.43h10.6v10.6h-10.6ZM1832.04 783.43h10.6v10.6h-10.6ZM1840.67 783.43h10.6v10.6h-10.6ZM1849.3 783.43h10.6v10.6h-10.6ZM1857.93 783.43h10.6v10.6h-10.6ZM1866.56 783.43h10.6v10.6h-10.6ZM1875.19 783.43h10.6v10.6h-10.6ZM1883.82 783.43h10.6v10.6h-10.6ZM1892.45 778.57h10.6v10.6h-10.6ZM1901.07 778.57h10.6v10.6h-10.6ZM1909.7 778.57h10.6v10.6h-10.6ZM1918.33 778.57h10.6v10.6h-10.6ZM1926.96 778.57h10.6v10.6h-10.6ZM1935.59 761.82h10.6v10.6h-10.6ZM1944.22 783.43h10.6v10.6h-10.6ZM1952.85 715.32h10.6v10.6h-10.6ZM1961.48 538.28h10.6v10.6h-10.6Z" fill="none" stroke="#00ff00" stroke-width="4"/>
<path d="M1103.9 773.79L1109.9 782.04L1103.9 790.29L1097.9 782.04ZM1112.53 667.37L1118.53 675.62L1112.53 683.87L1106.53 675.62ZM1121.16 600.69L1127.16 608.94L1121.16 617.19L1115.16 608.94ZM1129.79 783.47L1135.79 791.72L1129.79 799.97L1123.79 791.72ZM1138.42 706.59L1144.42 714.84L1138.42 723.09L1132.42 714.84ZM1147.04 751.37L1153.04 759.62L1147.04 767.87L1141.04 759.62ZM1155.67 783.47L1161.67 791.72L1155.67 799.97L1149.67 791.72ZM1164.3 753.02L1170.3 761.27L1164.3 769.52L1158.3 761.27ZM1172.93 730.67L1178.93 738.92L1172.93 747.17L1166.93 738.92ZM1181.56 783.47L1187.56 791.72L1181.56 799.97L1175.56 791.72ZM1190.19 748.52L1196.19 756.77L1190.19 765.02L1184.19 756.77ZM1198.82 756.99L1204.82 765.24L1198.82 773.49L1192.82 765.24ZM1207.45 783.47L1213.45 791.72L1207.45 799.97L1201.45 791.72ZM1216.07 770.49L1222.07 778.74L1216.07 786.99L1210.07 778.74ZM1224.7 767.94L1230.7 776.19L1224.7 784.44L1218.7 776.19ZM1233.33 783.47L1239.33 791.72L1233.33 799.97L1227.33 791.72ZM1241.96 774.24L1247.96 782.49L1241.96 790.74L1235.96 782.49ZM1250.59 775.74L1256.59 783.99L1250.59 792.24L1244.59 783.99ZM1259.22 780.24L1265.22 788.49L1259.22 796.74L1253.22 788.49ZM1267.85 775.74L1273.85 783.99L1267.85 792.24L1261.85 783.99ZM1276.48 778.74L1282.48 786.99L1276.48 795.24L1270.48 786.99ZM1285.1 772.63L1291.1 780.88L1285.1 789.13L1279.1 780.88ZM1293.73 779.15L1299.73 787.4L1293.73 795.65L1287.73 787.4ZM1302.36 776.59L1308.36 784.84L1302.36 793.09L1296.36 784.84ZM1310.99 768.44L1316.99 776.69L1310.99 784.94L1304.99 776.69ZM1319.62 775.78L1325.62 784.03L1319.62 792.28L1313.62 784.03ZM1328.25 773.27L1334.25 781.52L1328.25 789.77L1322.25 781.52ZM1336.88 762.8L1342.88 771.05L1336.88 779.3L1330.88 771.05ZM1345.51 770.62L1351.51 778.87L1345.51 787.12L1339.51 778.87ZM1354.13 769.04L1360.13 777.29L1354.13 785.54L1348.13 777.29ZM1362.76 756.09L1368.76 764.34L1362.76 772.59L1356.76 764.34ZM1371.39 763.49L1377.39 771.74L1371.39 779.99L1365.39 771.74ZM1380.02 764.31L1386.02 772.56L1380.02 780.81L1374.02 772.56ZM1388.65 749.05L1394.65 757.3L1388.65 765.55L1382.65 757.3ZM1397.28 754.69L1403.28 762.94L1397.28 771.19L1391.28 762.94ZM1405.91 759.25L1411.91 767.5L1405.91 775.75L1399.91 767.5ZM1414.54 742.53L1420.54 750.78L1414.54 759.03L1408.54 750.78ZM1423.16 749.22L1429.16 757.47L1423.16 765.72L1417.16 757.47ZM1431.79 754.53L1437.79 762.78L1431.79 771.03L1425.79 762.78ZM1440.42 736.22L1446.42 744.47L1440.42 752.72L1434.42 744.47ZM1449.05 743.93L1455.05 752.18L1449.05 760.43L1443.05 752.18ZM1457.68 750.34L1463.68 758.59L1457.68 766.84L1451.68 758.59ZM1466.31 732.06L1472.31 740.31L1466.31 748.56L1460.31 740.31ZM1474.94 740.45L1480.94 748.7L1474.94 756.95L1468.94 748.7ZM1483.57 747.02L1489.57 755.27L1483.57 763.52L1477.57 755.27ZM1492.19 729.56L1498.19 737.81L1492.19 746.06L1486.19 737.81ZM1500.82 738.35L1506.82 746.6L1500.82 754.85L1494.82 746.6ZM1509.45 744.87L1515.45 753.12L1509.45 761.37L1503.45 753.12ZM1518.08 729.67L1524.08 737.92L1518.08 746.17L1512.08 737.92ZM1526.71 738.44L1532.71 746.69L1526.71 754.94L1520.71 746.69ZM1535.34 744.06L1541.34 752.31L1535.34 760.56L1529.34 752.31ZM1543.97 738.35L1549.97 746.6L1543.97 754.85L1537.97 746.6ZM1552.6 729.56L1558.6 737.81L1552.6 746.06L1546.6 737.81ZM1561.22 744.7L1567.22 752.95L1561.22 761.2L1555.22 752.95ZM1569.85 738.2L1575.85 746.45L1569.85 754.7L1563.85 746.45ZM1578.48 729.37L1584.48 737.62L1578.48 745.87L1572.48 737.62ZM1587.11 746.56L1593.11 754.81L1587.11 763.06L1581.11 754.81ZM1595.74 739.77L1601.74 748.02L1595.74 756.27L1589.74 748.02ZM1604.37 731.25L1610.37 739.5L1604.37 747.75L1598.37 739.5ZM1613 749.67L1619 757.92L1613 766.17L1607 757.92ZM1621.62 743.06L1627.62 751.31L1621.62 759.56L1615.62 751.31ZM1630.25 735.17L1636.25 743.42L1630.25 751.67L1624.25 743.42ZM1638.88 753.8L1644.88 762.05L1638.88 770.3L1632.88 762.05ZM1647.51 747.95L1653.51 756.2L1647.51 764.45L1641.51 756.2ZM1656.14 741.01L1662.14 749.26L1656.14 757.51L1650.14 749.26ZM1664.77 758.41L1670.77 766.66L1664.77 774.91L1658.77 766.66ZM1673.4 753.53L1679.4 761.78L1673.4 770.03L1667.4 761.78ZM1682.03 747.67L1688.03 755.92L1682.03 764.17L1676.03 755.92ZM1690.66 763.37L1696.66 771.62L1690.66 779.87L1684.66 771.62ZM1699.28 762.49L1705.28 770.74L1699.28 778.99L1693.28 770.74ZM1707.91 754.72L1713.91 762.97L1707.91 771.22L1701.91 762.97ZM1716.54 768.21L1722.54 776.46L1716.54 784.71L1710.54 776.46ZM1725.17 769.74L1731.17 777.99L1725.17 786.24L1719.17 777.99ZM1733.8 761.4L1739.8 769.65L1733.8 777.9L1727.8 769.65ZM1742.43 772.28L1748.43 780.53L1742.43 788.78L1736.43 780.53ZM1751.06 775.22L1757.06 783.47L1751.06 791.72L1745.06 783.47ZM1759.68 767.38L1765.68 775.63L1759.68 783.88L1753.68 775.63ZM1768.31 776.06L1774.31 784.31L1768.31 792.56L1762.31 784.31ZM1776.94 778.74L1782.94 786.99L1776.94 795.24L1770.94 786.99ZM1785.57 771.66L1791.57 779.91L1785.57 788.16L1779.57 779.91ZM1794.2 778.74L1800.2 786.99L1794.2 795.24L1788.2 786.99ZM1802.83 775.74L1808.83 783.99L1802.83 792.24L1796.83 783.99ZM1811.46 780.24L1817.46 788.49L1811.46 796.74L1805.46 788.49ZM1820.09 775.74L1826.09 783.99L1820.09 792.24L1814.09 783.99ZM1828.72 774.24L1834.72 782.49L1828.72 790.74L1822.72 782.49ZM1837.34 783.47L1843.34 791.72L1837.34 799.97L1831.34 791.72ZM1845.97 767.94L1851.97 776.19L1845.97 784.44L1839.97 776.19ZM1854.6 770.49L1860.6 778.74L1854.6 786.99L1848.6 778.74ZM1863.23 783.47L1869.23 791.72L1863.23 799.97L1857.23 791.72ZM1871.86 758.49L1877.86 766.74L1871.86 774.99L1865.86 766.74ZM1880.49 751.74L1886.49 759.99L1880.49 768.24L1874.49 759.99ZM1889.12 783.47L1895.12 791.72L1889.12 799.97L1883.12 791.72ZM1897.75 733.14L1903.75 741.39L1897.75 749.64L1891.75 741.39ZM1906.37 754.74L1912.37 762.99L1906.37 771.24L1900.37 762.99ZM1915 783.47L1921 791.72L1915 799.97L1909 791.72ZM1923.63 753.24L1929.63 761.49L1923.63 769.74L1917.63 761.49ZM1932.26 708.99L1938.26 717.24L1932.26 725.49L1926.26 717.24ZM1940.89 783.47L1946.89 791.72L1940.89 799.97L1934.89 791.72ZM1949.52 606.24L1955.52 614.49L1949.52 622.74L1943.52 614.49ZM1958.15 671.27L1964.15 679.52L1958.15 687.77L1952.15 679.52ZM1966.78 774.62L1972.78 782.87L1966.78 791.12L1960.78 782.87Z" fill="none" stroke="#00ffff" stroke-width="4.4"/>
<path d="M1096.65 633.14L1111.15 633.14L1103.9 645.14ZM1105.28 787.34L1119.78 787.34L1112.53 799.34ZM1113.91 775.87L1128.41 775.87L1121.16 787.87ZM1122.54 718.64L1137.04 718.64L1129.79 730.64ZM1131.17 746.99L1145.67 746.99L1138.42 758.99ZM1139.79 767.62L1154.29 767.62L1147.04 779.62ZM1148.42 706.72L1162.92 706.72L1155.67 718.72ZM1157.05 775.04L1171.55 775.04L1164.3 787.04ZM1165.68 775.49L1180.18 775.49L1172.93 787.49ZM1174.31 751.87L1188.81 751.87L1181.56 763.87ZM1182.94 775.49L1197.44 775.49L1190.19 787.49ZM1191.57 779.99L1206.07 779.99L1198.82 791.99ZM1200.2 756.74L1214.7 756.74L1207.45 768.74ZM1208.82 781.49L1223.32 781.49L1216.07 793.49ZM1217.45 781.49L1231.95 781.49L1224.7 793.49ZM1226.08 774.22L1240.58 774.22L1233.33 786.22ZM1234.71 781.49L1249.21 781.49L1241.96 793.49ZM1243.34 781.49L1257.84 781.49L1250.59 793.49ZM1251.97 782.24L1266.47 782.24L1259.22 794.24ZM1260.6 782.24L1275.1 782.24L1267.85 794.24ZM1269.23 781.01L1283.73 781.01L1276.48 793.01ZM1277.85 786.36L1292.35 786.36L1285.1 798.36ZM1286.48 778.88L1300.98 778.88L1293.73 790.88ZM1295.11 777.59L1309.61 777.59L1302.36 789.59ZM1303.74 787.79L1318.24 787.79L1310.99 799.79ZM1312.37 775.44L1326.87 775.44L1319.62 787.44ZM1321 772.8L1335.5 772.8L1328.25 784.8ZM1329.63 785.96L1344.13 785.96L1336.88 797.96ZM1338.26 770.81L1352.76 770.81L1345.51 782.81ZM1346.88 766.67L1361.38 766.67L1354.13 778.67ZM1355.51 782L1370.01 782L1362.76 794ZM1364.14 765.3L1378.64 765.3L1371.39 777.3ZM1372.77 759.83L1387.27 759.83L1380.02 771.83ZM1381.4 776.15L1395.9 776.15L1388.65 788.15ZM1390.03 759.52L1404.53 759.52L1397.28 771.52ZM1398.66 752.51L1413.16 752.51L1405.91 764.51ZM1407.29 769.19L1421.79 769.19L1414.54 781.19ZM1415.91 754.16L1430.41 754.16L1423.16 766.16ZM1424.54 745.67L1439.04 745.67L1431.79 757.67ZM1433.17 761.99L1447.67 761.99L1440.42 773.99ZM1441.8 748.98L1456.3 748.98L1449.05 760.98ZM1450.43 739.61L1464.93 739.61L1457.68 751.61ZM1459.06 755.42L1473.56 755.42L1466.31 767.42ZM1467.69 745.56L1482.19 745.56L1474.94 757.56ZM1476.32 734.82L1490.82 734.82L1483.57 746.82ZM1484.94 749.86L1499.44 749.86L1492.19 761.86ZM1493.57 743.51L1508.07 743.51L1500.82 755.51ZM1502.2 731.7L1516.7 731.7L1509.45 743.7ZM1510.83 745.79L1525.33 745.79L1518.08 757.79ZM1519.46 743.6L1533.96 743.6L1526.71 755.6ZM1528.09 730.53L1542.59 730.53L1535.34 742.53ZM1536.72 743.51L1551.22 743.51L1543.97 755.51ZM1545.35 745.45L1559.85 745.45L1552.6 757.45ZM1553.97 731.45L1568.47 731.45L1561.22 743.45ZM1562.6 743.36L1577.1 743.36L1569.85 755.36ZM1571.23 749.37L1585.73 749.37L1578.48 761.37ZM1579.86 734.15L1594.36 734.15L1587.11 746.15ZM1588.49 744.9L1602.99 744.9L1595.74 756.9ZM1597.12 754.64L1611.62 754.64L1604.37 766.64ZM1605.75 738.64L1620.25 738.64L1613 750.64ZM1614.38 748.12L1628.88 748.12L1621.62 760.12ZM1623 761.18L1637.5 761.18L1630.25 773.18ZM1631.63 744.62L1646.13 744.62L1638.88 756.62ZM1640.26 752.92L1654.76 752.92L1647.51 764.92ZM1648.89 768.25L1663.39 768.25L1656.14 780.25ZM1657.52 751.3L1672.02 751.3L1664.77 763.3ZM1666.15 758.39L1680.65 758.39L1673.4 770.39ZM1674.78 775.44L1689.28 775.44L1682.03 787.44ZM1683.41 758.46L1697.91 758.46L1690.66 770.46ZM1692.03 764.17L1706.53 764.17L1699.28 776.17ZM1700.66 781.29L1715.16 781.29L1707.91 793.29ZM1709.29 765.46L1723.79 765.46L1716.54 777.46ZM1717.92 769.67L1732.42 769.67L1725.17 781.67ZM1726.55 785.59L1741.05 785.59L1733.8 797.59ZM1735.18 771.36L1749.68 771.36L1742.43 783.36ZM1743.81 774.57L1758.31 774.57L1751.06 786.57ZM1752.43 787.68L1766.93 787.68L1759.68 799.68ZM1761.06 776.83L1775.56 776.83L1768.31 788.83ZM1769.69 778.09L1784.19 778.09L1776.94 790.09ZM1778.32 786.25L1792.82 786.25L1785.57 798.25ZM1786.95 780.43L1801.45 780.43L1794.2 792.43ZM1795.58 782.24L1810.08 782.24L1802.83 794.24ZM1804.21 782.24L1818.71 782.24L1811.46 794.24ZM1812.84 781.49L1827.34 781.49L1820.09 793.49ZM1821.47 781.49L1835.97 781.49L1828.72 793.49ZM1830.09 774.74L1844.59 774.74L1837.34 786.74ZM1838.72 781.49L1853.22 781.49L1845.97 793.49ZM1847.35 781.49L1861.85 781.49L1854.6 793.49ZM1855.98 758.99L1870.48 758.99L1863.23 770.99ZM1864.61 779.99L1879.11 779.99L1871.86 791.99ZM1873.24 775.49L1887.74 775.49L1880.49 787.49ZM1881.87 752.69L1896.37 752.69L1889.12 764.69ZM1890.5 775.49L1905 775.49L1897.75 787.49ZM1899.12 775.49L1913.62 775.49L1906.37 787.49ZM1907.75 708.74L1922.25 708.74L1915 720.74ZM1916.38 768.44L1930.88 768.44L1923.63 780.44ZM1925.01 748.04L1939.51 748.04L1932.26 760.04ZM1933.64 720.74L1948.14 720.74L1940.89 732.74ZM1942.27 775.49L1956.77 775.49L1949.52 787.49ZM1950.9 787.34L1965.4 787.34L1958.15 799.34ZM1959.53 636.74L1974.03 636.74L1966.78 648.74Z" fill="none" stroke="#ff00ff" stroke-width="4.4"/>
<path d="M1100.4 785.22L1107.4 792.22M1100.4 792.22L1107.4 785.22M1109.03 744.49L1116.03 751.49M1109.03 751.49L1116.03 744.49M1117.66 786.49L1124.66 793.49M1117.66 793.49L1124.66 786.49M1126.29 784.24L1133.29 791.24M1126.29 791.24L1133.29 784.24M1134.92 781.99L1141.92 788.99M1134.92 788.99L1141.92 781.99M1143.54 781.24L1150.54 788.24M1143.54 788.24L1150.54 781.24M1152.17 781.99L1159.17 788.99M1152.17 788.99L1159.17 781.99M1160.8 784.24L1167.8 791.24M1160.8 791.24L1167.8 784.24M1169.43 786.49L1176.43 793.49M1169.43 793.49L1176.43 786.49M1178.06 787.99L1185.06 794.99M1178.06 794.99L1185.06 787.99M1186.69 787.7L1193.69 794.7M1186.69 794.7L1193.69 787.7M1195.32 787.7L1202.32 794.7M1195.32 794.7L1202.32 787.7M1203.95 787.7L1210.95 794.7M1203.95 794.7L1210.95 787.7M1212.57 787.7L1219.57 794.7M1212.57 794.7L1219.57 787.7M1221.2 787.7L1228.2 794.7M1221.2 794.7L1228.2 787.7M1229.83 787.7L1236.83 794.7M1229.83 794.7L1236.83 787.7M1238.46 787.7L1245.46 794.7M1238.46 794.7L1245.46 787.7M1247.09 787.7L1254.09 794.7M1247.09 794.7L1254.09 787.7M1255.72 787.7L1262.72 794.7M1255.72 794.7L1262.72 787.7M1264.35 787.7L1271.35 794.7M1264.35 794.7L1271.35 787.7M1272.98 787.7L1279.98 794.7M1272.98 794.7L1279.98 787.7M1281.6 787.7L1288.6 794.7M1281.6 794.7L1288.6 787.7M1290.23 787.7L1297.23 794.7M1290.23 794.7L1297.23 787.7M1298.86 787.7L1305.86 794.7M1298.86 794.7L1305.86 787.7M1307.49 787.7L1314.49 794.7M1307.49 794.7L1314.49 787.7M1316.12 787.7L1323.12 794.7M1316.12 794.7L1323.12 787.7M1324.75 787.7L1331.75 794.7M1324.75 794.7L1331.75 787.7M1333.38 787.7L1340.38 794.7M1333.38 794.7L1340.38 787.7M1342.01 787.7L1349.01 794.7M1342.01 794.7L1349.01 787.7M1350.63 787.7L1357.63 794.7M1350.63 794.7L1357.63 787.7M1359.26 787.7L1366.26 794.7M1359.26 794.7L1366.26 787.7M1367.89 787.7L1374.89 794.7M1367.89 794.7L1374.89 787.7M1376.52 787.7L1383.52 794.7M1376.52 794.7L1383.52 787.7M1385.15 787.7L1392.15 794.7M1385.15 794.7L1392.15 787.7M1393.78 787.7L1400.78 794.7M1393.78 794.7L1400.78 787.7M1402.41 787.7L1409.41 794.7M1402.41 794.7L1409.41 787.7M1411.04 787.7L1418.04 794.7M1411.04 794.7L1418.04 787.7M1419.66 787.7L1426.66 794.7M1419.66 794.7L1426.66 787.7M1428.29 787.7L1435.29 794.7M1428.29 794.7L1435.29 787.7M1436.92 787.7L1443.92 794.7M1436.92 794.7L1443.92 787.7M1445.55 787.7L1452.55 794.7M1445.55 794.7L1452.55 787.7M1454.18 787.7L1461.18 794.7M1454.18 794.7L1461.18 787.7M1462.81 787.7L1469.81 794.7M1462.81 794.7L1469.81 787.7M1471.44 787.7L1478.44 794.7M1471.44 794.7L1478.44 787.7M1480.07 787.7L1487.07 794.7M1480.07 794.7L1487.07 787.7M1488.69 787.7L1495.69 794.7M1488.69 794.7L1495.69 787.7M1497.32 787.7L1504.32 794.7M1497.32 794.7L1504.32 787.7M1505.95 787.7L1512.95 794.7M1505.95 794.7L1512.95 787.7M1514.58 787.7L1521.58 794.7M1514.58 794.7L1521.58 787.7M1523.21 787.7L1530.21 794.7M1523.21 794.7L1530.21 787.7M1531.84 787.7L1538.84 794.7M1531.84 794.7L1538.84 787.7M1540.47 787.7L1547.47 794.7M1540.47 794.7L1547.47 787.7M1549.1 787.7L1556.1 794.7M1549.1 794.7L1556.1 787.7M1557.72 787.7L1564.72 794.7M1557.72 794.7L1564.72 787.7M1566.35 787.7L1573.35 794.7M1566.35 794.7L1573.35 787.7M1574.98 787.7L1581.98 794.7M1574.98 794.7L1581.98 787.7M1583.61 787.7L1590.61 794.7M1583.61 794.7L1590.61 787.7M1592.24 787.7L1599.24 794.7M1592.24 794.7L1599.24 787.7M1600.87 787.7L1607.87 794.7M1600.87 794.7L1607.87 787.7M1609.5 787.7L1616.5 794.7M1609.5 794.7L1616.5 787.7M1618.12 787.7L1625.12 794.7M1618.12 794.7L1625.12 787.7M1626.75 787.7L1633.75 794.7M1626.75 794.7L1633.75 787.7M1635.38 787.7L1642.38 794.7M1635.38 794.7L1642.38 787.7M1644.01 787.7L1651.01 794.7M1644.01 794.7L1651.01 787.7M1652.64 787.7L1659.64 794.7M1652.64 794.7L1659.64 787.7M1661.27 787.7L1668.27 794.7M1661.27 794.7L1668.27 787.7M1669.9 787.7L1676.9 794.7M1669.9 794.7L1676.9 787.7M1678.53 787.7L1685.53 794.7M1678.53 794.7L1685.53 787.7M1687.16 787.7L1694.16 794.7M1687.16 794.7L1694.16 787.7M1695.78 787.7L1702.78 794.7M1695.78 794.7L1702.78 787.7M1704.41 787.7L1711.41 794.7M1704.41 794.7L1711.41 787.7M1713.04 787.7L1720.04 794.7M1713.04 794.7L1720.04 787.7M1721.67 787.7L1728.67 794.7M1721.67 794.7L1728.67 787.7M1730.3 787.7L1737.3 794.7M1730.3 794.7L1737.3 787.7M1738.93 787.7L1745.93 794.7M1738.93 794.7L1745.93 787.7M1747.56 787.7L1754.56 794.7M1747.56 794.7L1754.56 787.7M1756.18 787.7L1763.18 794.7M1756.18 794.7L1763.18 787.7M1764.81 787.7L1771.81 794.7M1764.81 794.7L1771.81 787.7M1773.44 787.7L1780.44 794.7M1773.44 794.7L1780.44 787.7M1782.07 787.7L1789.07 794.7M1782.07 794.7L1789.07 787.7M1790.7 787.7L1797.7 794.7M1790.7 794.7L1797.7 787.7M1799.33 787.7L1806.33 794.7M1799.33 794.7L1806.33 787.7M1807.96 787.7L1814.96 794.7M1807.96 794.7L1814.96 787.7M1816.59 787.7L1823.59 794.7M1816.59 794.7L1823.59 787.7M1825.22 787.7L1832.22 794.7M1825.22 794.7L1832.22 787.7M1833.84 787.7L1840.84 794.7M1833.84 794.7L1840.84 787.7M1842.47 787.7L1849.47 794.7M1842.47 794.7L1849.47 787.7M1851.1 787.7L1858.1 794.7M1851.1 794.7L1858.1 787.7M1859.73 787.7L1866.73 794.7M1859.73 794.7L1866.73 787.7M1868.36 787.7L1875.36 794.7M1868.36 794.7L1875.36 787.7M1876.99 787.7L1883.99 794.7M1876.99 794.7L1883.99 787.7M1885.62 787.24L1892.62 794.24M1885.62 794.24L1892.62 787.24M1894.25 785.74L1901.25 792.74M1894.25 792.74L1901.25 785.74M1902.87 782.74L1909.87 789.74M1902.87 789.74L1909.87 782.74M1911.5 780.49L1918.5 787.49M1911.5 787.49L1918.5 780.49M1920.13 779.37L1927.13 786.37M1920.13 786.37L1927.13 779.37M1928.76 780.49L1935.76 787.49M1928.76 787.49L1935.76 780.49M1937.39 783.49L1944.39 790.49M1937.39 790.49L1944.39 783.49M1946.02 786.49L1953.02 793.49M1946.02 793.49L1953.02 786.49M1954.65 746.22L1961.65 753.22M1954.65 753.22L1961.65 746.22M1963.28 784.39L1970.28 791.39M1963.28 791.39L1970.28 784.39" fill="none" stroke="#000000" stroke-width="5.2" stroke-linecap="round"/>
<g font-size="25.4"><text x="1098" y="802.2" text-anchor="end">0</text><text x="1098" y="727.39" text-anchor="end">0.1</text><text x="1098" y="652.58" text-anchor="end">0.2</text><text x="1098" y="577.77" text-anchor="end">0.3</text><text x="1098" y="502.96" text-anchor="end">0.4</text><text x="1098" y="428.15" text-anchor="end">0.5</text><text x="1098" y="353.34" text-anchor="end">0.6</text><text x="1098" y="278.53" text-anchor="end">0.7</text><text x="1098" y="203.72" text-anchor="end">0.8</text><text x="1098" y="128.91" text-anchor="end">0.9</text><text x="1098" y="54.1" text-anchor="end">1</text><text x="1103.6" y="835.6" text-anchor="middle">0</text><text x="1189.89" y="835.6" text-anchor="middle">5</text><text x="1276.18" y="835.6" text-anchor="middle">10</text><text x="1362.46" y="835.6" text-anchor="middle">15</text><text x="1448.75" y="835.6" text-anchor="middle">20</text><text x="1535.04" y="835.6" text-anchor="middle">25</text><text x="1621.33" y="835.6" text-anchor="middle">30</text><text x="1707.61" y="835.6" text-anchor="middle">35</text><text x="1793.9" y="835.6" text-anchor="middle">40</text><text x="1880.19" y="835.6" text-anchor="middle">45</text><text x="1966.48" y="835.6" text-anchor="middle">50</text></g>
<text x="1498.2" y="879.8" font-size="37.5">x/a</text>
<text x="1550.4" y="898" font-size="28.5">0</text>
<text transform="translate(1046.3 407.6) rotate(-90)" text-anchor="middle" font-size="38">Normalized PLDOS</text>
<text class="b" x="1837.8" y="104.8" font-size="32" letter-spacing="0.9">(b)</text>
<path d="M1185.3 45.2H1233.7" stroke="#0000ff" stroke-width="4.2" fill="none"/>
<path d="M1204.2 45.2a5.6 5.6 0 1 0 11.2 0a5.6 5.6 0 1 0 -11.2 0Z" fill="none" stroke="#0000ff" stroke-width="5"/>
<path d="M1209.8 92.6L1212.49 100.89L1221.21 100.89L1214.16 106.02L1216.85 114.31L1209.8 109.18L1202.75 114.31L1205.44 106.02L1198.39 100.89L1207.11 100.89Z" fill="#ff0000"/>
<path d="M1204.7 157.3h10.2v10.2h-10.2Z" fill="none" stroke="#00ff00" stroke-width="3.8"/>
<path d="M1209.8 212.4L1215.8 220.8L1209.8 229.2L1203.8 220.8Z" fill="none" stroke="#00ffff" stroke-width="4.6"/>
<path d="M1202.55 275L1217.05 275L1209.8 287Z" fill="none" stroke="#ff00ff" stroke-width="4.4"/>
<path d="M1206 334.2L1213.6 341.8M1206 341.8L1213.6 334.2" fill="none" stroke="#000" stroke-width="4.6" stroke-linecap="round"/>
<text class="b" x="1239" y="49.8" font-size="32.2">Mo:d<tspan dx="-0.2" dy="15.8" font-size="24.3">z</tspan><tspan dx="0" dy="-15.8" font-size="19.5" font-weight="normal" stroke-width="0.45">2</tspan></text>
<text class="b" x="1239" y="108.9" font-size="32.2">Mo:d<tspan dx="-0.2" dy="15.8" font-size="24.3">x</tspan><tspan dx="0" dy="-16.1" font-size="19.5" font-weight="normal" stroke-width="0.45">2</tspan><tspan dx="0" dy="16.1" font-size="24.3">−</tspan><tspan dx="0" dy="0" font-size="24.3">y</tspan><tspan dx="0" dy="-16.1" font-size="19.5" font-weight="normal" stroke-width="0.45">2</tspan></text>
<text class="b" x="1239" y="167.7" font-size="32.2">Mo:d<tspan dx="-0.2" dy="15.8" font-size="24.3">xy</tspan></text>
<text class="b" x="1238.2" y="225.6" font-size="32.2">S:<tspan dx="1">p</tspan><tspan dx="-0.2" dy="15.8" font-size="24.3">x</tspan></text>
<text class="b" x="1238.2" y="283.6" font-size="32.2">S:<tspan dx="1">p</tspan><tspan dx="-0.2" dy="15.8" font-size="24.3">y</tspan></text>
<text class="b" x="1238.2" y="342.2" font-size="32.2">S:<tspan dx="1">p</tspan><tspan dx="-0.2" dy="15.8" font-size="24.3">z</tspan></text>
</svg>
</body></html>
